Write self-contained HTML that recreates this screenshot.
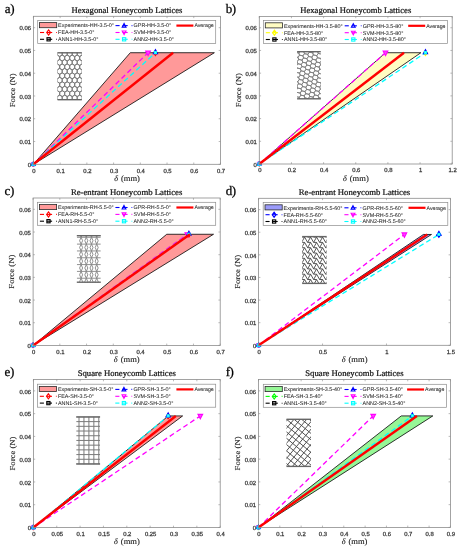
<!DOCTYPE html>
<html><head><meta charset="utf-8"><title>Figure</title>
<style>html,body{margin:0;padding:0;background:#fff;} svg{display:block;} text{text-rendering:geometricPrecision;}</style></head>
<body><svg width="460" height="550" viewBox="0 0 460 550">
<rect width="460" height="550" fill="#fff"/>
<!-- panel a) -->
<text x="4.80" y="13.30" font-family='"Liberation Serif", "Times New Roman", serif' font-size="13" letter-spacing="-0.4" fill="#000" stroke="#000" stroke-width="0.25">a)</text>
<text x="126.95" y="12.80" text-anchor="middle" font-family='"Liberation Serif", "Times New Roman", serif' font-size="8.6" fill="#111" stroke="#111" stroke-width="0.22" textLength="111" lengthAdjust="spacingAndGlyphs">Hexagonal Honeycomb Lattices</text>
<text transform="translate(14.60,90.30) rotate(-90)" text-anchor="middle" font-family='"Liberation Serif", "Times New Roman", serif' font-size="7.6" fill="#1a1a1a" stroke="#1a1a1a" stroke-width="0.12" textLength="34" lengthAdjust="spacingAndGlyphs">Force (N)</text>
<text x="114.15" y="180.90" font-family='"Liberation Serif", "Times New Roman", serif' font-size="8.2" font-style="italic" fill="#1a1a1a" stroke="#1a1a1a" stroke-width="0.12">δ</text>
<text x="120.95" y="180.90" font-family='"Liberation Serif", "Times New Roman", serif' font-size="8.2" fill="#1a1a1a" stroke="#1a1a1a" stroke-width="0.12" textLength="19" lengthAdjust="spacingAndGlyphs">(mm)</text>
<path d="M33.40 164.30L130.29 52.73L214.35 52.73Z" fill="#FF9999" stroke="#111" stroke-width="0.85"/>
<path d="M155.44 50.47L157.34 53.03L155.44 55.60L153.54 53.03Z" fill="none" stroke="#FF0000" stroke-width="1.1"/>
<line x1="33.40" y1="164.30" x2="148.04" y2="52.73" stroke="#FF00FF" stroke-width="1.3" stroke-dasharray="5 3.2"/>
<line x1="33.40" y1="164.30" x2="155.44" y2="52.73" stroke="#00FFFF" stroke-width="1.3" stroke-dasharray="5 3.2"/>
<path d="M148.04 55.62L150.39 51.15L145.69 51.15Z" fill="#FF44FF" stroke="#FF00FF" stroke-width="1.1"/>
<path d="M155.44 49.61L157.64 53.79L153.24 53.79Z" fill="none" stroke="#0000FF" stroke-width="1.05"/>
<rect x="154.34" y="51.53" width="2.21" height="2.21" fill="#66FFFF" stroke="#00FFFF" stroke-width="0.9"/>
<path d="M33.40 161.60L35.40 164.30L33.40 167.00L31.40 164.30Z" fill="none" stroke="#FF0000" stroke-width="1.0"/>
<path d="M33.40 166.72L35.60 162.54L31.20 162.54Z" fill="none" stroke="#FF00FF" stroke-width="1.0"/>
<path d="M33.40 161.38L35.60 165.56L31.20 165.56Z" fill="none" stroke="#0000FF" stroke-width="1.0"/>
<rect x="32.04" y="162.94" width="2.72" height="2.72" fill="none" stroke="#00FFFF" stroke-width="1.0"/>
<line x1="33.40" y1="164.30" x2="173.08" y2="52.73" stroke="#FF0000" stroke-width="2.45"/>
<g>
<clipPath id="c5752"><rect x="57.60" y="52.60" width="24.20" height="47.30"/></clipPath>
<g clip-path="url(#c5752)" fill="none" stroke="#7a7a7a" stroke-width="0.95">
<polygon points="59.70,50.54 57.20,51.99 54.70,50.54 54.70,47.66 57.20,46.21 59.70,47.66"/>
<polygon points="64.70,50.54 62.20,51.99 59.70,50.54 59.70,47.66 62.20,46.21 64.70,47.66"/>
<polygon points="69.70,50.54 67.20,51.99 64.70,50.54 64.70,47.66 67.20,46.21 69.70,47.66"/>
<polygon points="74.70,50.54 72.20,51.99 69.70,50.54 69.70,47.66 72.20,46.21 74.70,47.66"/>
<polygon points="79.70,50.54 77.20,51.99 74.70,50.54 74.70,47.66 77.20,46.21 79.70,47.66"/>
<polygon points="84.70,50.54 82.20,51.99 79.70,50.54 79.70,47.66 82.20,46.21 84.70,47.66"/>
<polygon points="89.70,50.54 87.20,51.99 84.70,50.54 84.70,47.66 87.20,46.21 89.70,47.66"/>
<polygon points="94.70,50.54 92.20,51.99 89.70,50.54 89.70,47.66 92.20,46.21 94.70,47.66"/>
<polygon points="57.20,54.99 54.70,56.44 52.20,54.99 52.20,52.11 54.70,50.66 57.20,52.11"/>
<polygon points="62.20,54.99 59.70,56.44 57.20,54.99 57.20,52.11 59.70,50.66 62.20,52.11"/>
<polygon points="67.20,54.99 64.70,56.44 62.20,54.99 62.20,52.11 64.70,50.66 67.20,52.11"/>
<polygon points="72.20,54.99 69.70,56.44 67.20,54.99 67.20,52.11 69.70,50.66 72.20,52.11"/>
<polygon points="77.20,54.99 74.70,56.44 72.20,54.99 72.20,52.11 74.70,50.66 77.20,52.11"/>
<polygon points="82.20,54.99 79.70,56.44 77.20,54.99 77.20,52.11 79.70,50.66 82.20,52.11"/>
<polygon points="87.20,54.99 84.70,56.44 82.20,54.99 82.20,52.11 84.70,50.66 87.20,52.11"/>
<polygon points="92.20,54.99 89.70,56.44 87.20,54.99 87.20,52.11 89.70,50.66 92.20,52.11"/>
<polygon points="59.70,59.44 57.20,60.89 54.70,59.44 54.70,56.56 57.20,55.11 59.70,56.56"/>
<polygon points="64.70,59.44 62.20,60.89 59.70,59.44 59.70,56.56 62.20,55.11 64.70,56.56"/>
<polygon points="69.70,59.44 67.20,60.89 64.70,59.44 64.70,56.56 67.20,55.11 69.70,56.56"/>
<polygon points="74.70,59.44 72.20,60.89 69.70,59.44 69.70,56.56 72.20,55.11 74.70,56.56"/>
<polygon points="79.70,59.44 77.20,60.89 74.70,59.44 74.70,56.56 77.20,55.11 79.70,56.56"/>
<polygon points="84.70,59.44 82.20,60.89 79.70,59.44 79.70,56.56 82.20,55.11 84.70,56.56"/>
<polygon points="89.70,59.44 87.20,60.89 84.70,59.44 84.70,56.56 87.20,55.11 89.70,56.56"/>
<polygon points="94.70,59.44 92.20,60.89 89.70,59.44 89.70,56.56 92.20,55.11 94.70,56.56"/>
<polygon points="57.20,63.89 54.70,65.34 52.20,63.89 52.20,61.01 54.70,59.56 57.20,61.01"/>
<polygon points="62.20,63.89 59.70,65.34 57.20,63.89 57.20,61.01 59.70,59.56 62.20,61.01"/>
<polygon points="67.20,63.89 64.70,65.34 62.20,63.89 62.20,61.01 64.70,59.56 67.20,61.01"/>
<polygon points="72.20,63.89 69.70,65.34 67.20,63.89 67.20,61.01 69.70,59.56 72.20,61.01"/>
<polygon points="77.20,63.89 74.70,65.34 72.20,63.89 72.20,61.01 74.70,59.56 77.20,61.01"/>
<polygon points="82.20,63.89 79.70,65.34 77.20,63.89 77.20,61.01 79.70,59.56 82.20,61.01"/>
<polygon points="87.20,63.89 84.70,65.34 82.20,63.89 82.20,61.01 84.70,59.56 87.20,61.01"/>
<polygon points="92.20,63.89 89.70,65.34 87.20,63.89 87.20,61.01 89.70,59.56 92.20,61.01"/>
<polygon points="59.70,68.34 57.20,69.79 54.70,68.34 54.70,65.46 57.20,64.01 59.70,65.46"/>
<polygon points="64.70,68.34 62.20,69.79 59.70,68.34 59.70,65.46 62.20,64.01 64.70,65.46"/>
<polygon points="69.70,68.34 67.20,69.79 64.70,68.34 64.70,65.46 67.20,64.01 69.70,65.46"/>
<polygon points="74.70,68.34 72.20,69.79 69.70,68.34 69.70,65.46 72.20,64.01 74.70,65.46"/>
<polygon points="79.70,68.34 77.20,69.79 74.70,68.34 74.70,65.46 77.20,64.01 79.70,65.46"/>
<polygon points="84.70,68.34 82.20,69.79 79.70,68.34 79.70,65.46 82.20,64.01 84.70,65.46"/>
<polygon points="89.70,68.34 87.20,69.79 84.70,68.34 84.70,65.46 87.20,64.01 89.70,65.46"/>
<polygon points="94.70,68.34 92.20,69.79 89.70,68.34 89.70,65.46 92.20,64.01 94.70,65.46"/>
<polygon points="57.20,72.79 54.70,74.24 52.20,72.79 52.20,69.91 54.70,68.46 57.20,69.91"/>
<polygon points="62.20,72.79 59.70,74.24 57.20,72.79 57.20,69.91 59.70,68.46 62.20,69.91"/>
<polygon points="67.20,72.79 64.70,74.24 62.20,72.79 62.20,69.91 64.70,68.46 67.20,69.91"/>
<polygon points="72.20,72.79 69.70,74.24 67.20,72.79 67.20,69.91 69.70,68.46 72.20,69.91"/>
<polygon points="77.20,72.79 74.70,74.24 72.20,72.79 72.20,69.91 74.70,68.46 77.20,69.91"/>
<polygon points="82.20,72.79 79.70,74.24 77.20,72.79 77.20,69.91 79.70,68.46 82.20,69.91"/>
<polygon points="87.20,72.79 84.70,74.24 82.20,72.79 82.20,69.91 84.70,68.46 87.20,69.91"/>
<polygon points="92.20,72.79 89.70,74.24 87.20,72.79 87.20,69.91 89.70,68.46 92.20,69.91"/>
<polygon points="59.70,77.24 57.20,78.69 54.70,77.24 54.70,74.36 57.20,72.91 59.70,74.36"/>
<polygon points="64.70,77.24 62.20,78.69 59.70,77.24 59.70,74.36 62.20,72.91 64.70,74.36"/>
<polygon points="69.70,77.24 67.20,78.69 64.70,77.24 64.70,74.36 67.20,72.91 69.70,74.36"/>
<polygon points="74.70,77.24 72.20,78.69 69.70,77.24 69.70,74.36 72.20,72.91 74.70,74.36"/>
<polygon points="79.70,77.24 77.20,78.69 74.70,77.24 74.70,74.36 77.20,72.91 79.70,74.36"/>
<polygon points="84.70,77.24 82.20,78.69 79.70,77.24 79.70,74.36 82.20,72.91 84.70,74.36"/>
<polygon points="89.70,77.24 87.20,78.69 84.70,77.24 84.70,74.36 87.20,72.91 89.70,74.36"/>
<polygon points="94.70,77.24 92.20,78.69 89.70,77.24 89.70,74.36 92.20,72.91 94.70,74.36"/>
<polygon points="57.20,81.69 54.70,83.14 52.20,81.69 52.20,78.81 54.70,77.36 57.20,78.81"/>
<polygon points="62.20,81.69 59.70,83.14 57.20,81.69 57.20,78.81 59.70,77.36 62.20,78.81"/>
<polygon points="67.20,81.69 64.70,83.14 62.20,81.69 62.20,78.81 64.70,77.36 67.20,78.81"/>
<polygon points="72.20,81.69 69.70,83.14 67.20,81.69 67.20,78.81 69.70,77.36 72.20,78.81"/>
<polygon points="77.20,81.69 74.70,83.14 72.20,81.69 72.20,78.81 74.70,77.36 77.20,78.81"/>
<polygon points="82.20,81.69 79.70,83.14 77.20,81.69 77.20,78.81 79.70,77.36 82.20,78.81"/>
<polygon points="87.20,81.69 84.70,83.14 82.20,81.69 82.20,78.81 84.70,77.36 87.20,78.81"/>
<polygon points="92.20,81.69 89.70,83.14 87.20,81.69 87.20,78.81 89.70,77.36 92.20,78.81"/>
<polygon points="59.70,86.14 57.20,87.59 54.70,86.14 54.70,83.26 57.20,81.81 59.70,83.26"/>
<polygon points="64.70,86.14 62.20,87.59 59.70,86.14 59.70,83.26 62.20,81.81 64.70,83.26"/>
<polygon points="69.70,86.14 67.20,87.59 64.70,86.14 64.70,83.26 67.20,81.81 69.70,83.26"/>
<polygon points="74.70,86.14 72.20,87.59 69.70,86.14 69.70,83.26 72.20,81.81 74.70,83.26"/>
<polygon points="79.70,86.14 77.20,87.59 74.70,86.14 74.70,83.26 77.20,81.81 79.70,83.26"/>
<polygon points="84.70,86.14 82.20,87.59 79.70,86.14 79.70,83.26 82.20,81.81 84.70,83.26"/>
<polygon points="89.70,86.14 87.20,87.59 84.70,86.14 84.70,83.26 87.20,81.81 89.70,83.26"/>
<polygon points="94.70,86.14 92.20,87.59 89.70,86.14 89.70,83.26 92.20,81.81 94.70,83.26"/>
<polygon points="57.20,90.59 54.70,92.04 52.20,90.59 52.20,87.71 54.70,86.26 57.20,87.71"/>
<polygon points="62.20,90.59 59.70,92.04 57.20,90.59 57.20,87.71 59.70,86.26 62.20,87.71"/>
<polygon points="67.20,90.59 64.70,92.04 62.20,90.59 62.20,87.71 64.70,86.26 67.20,87.71"/>
<polygon points="72.20,90.59 69.70,92.04 67.20,90.59 67.20,87.71 69.70,86.26 72.20,87.71"/>
<polygon points="77.20,90.59 74.70,92.04 72.20,90.59 72.20,87.71 74.70,86.26 77.20,87.71"/>
<polygon points="82.20,90.59 79.70,92.04 77.20,90.59 77.20,87.71 79.70,86.26 82.20,87.71"/>
<polygon points="87.20,90.59 84.70,92.04 82.20,90.59 82.20,87.71 84.70,86.26 87.20,87.71"/>
<polygon points="92.20,90.59 89.70,92.04 87.20,90.59 87.20,87.71 89.70,86.26 92.20,87.71"/>
<polygon points="59.70,95.04 57.20,96.49 54.70,95.04 54.70,92.16 57.20,90.71 59.70,92.16"/>
<polygon points="64.70,95.04 62.20,96.49 59.70,95.04 59.70,92.16 62.20,90.71 64.70,92.16"/>
<polygon points="69.70,95.04 67.20,96.49 64.70,95.04 64.70,92.16 67.20,90.71 69.70,92.16"/>
<polygon points="74.70,95.04 72.20,96.49 69.70,95.04 69.70,92.16 72.20,90.71 74.70,92.16"/>
<polygon points="79.70,95.04 77.20,96.49 74.70,95.04 74.70,92.16 77.20,90.71 79.70,92.16"/>
<polygon points="84.70,95.04 82.20,96.49 79.70,95.04 79.70,92.16 82.20,90.71 84.70,92.16"/>
<polygon points="89.70,95.04 87.20,96.49 84.70,95.04 84.70,92.16 87.20,90.71 89.70,92.16"/>
<polygon points="94.70,95.04 92.20,96.49 89.70,95.04 89.70,92.16 92.20,90.71 94.70,92.16"/>
<polygon points="57.20,99.49 54.70,100.94 52.20,99.49 52.20,96.61 54.70,95.16 57.20,96.61"/>
<polygon points="62.20,99.49 59.70,100.94 57.20,99.49 57.20,96.61 59.70,95.16 62.20,96.61"/>
<polygon points="67.20,99.49 64.70,100.94 62.20,99.49 62.20,96.61 64.70,95.16 67.20,96.61"/>
<polygon points="72.20,99.49 69.70,100.94 67.20,99.49 67.20,96.61 69.70,95.16 72.20,96.61"/>
<polygon points="77.20,99.49 74.70,100.94 72.20,99.49 72.20,96.61 74.70,95.16 77.20,96.61"/>
<polygon points="82.20,99.49 79.70,100.94 77.20,99.49 77.20,96.61 79.70,95.16 82.20,96.61"/>
<polygon points="87.20,99.49 84.70,100.94 82.20,99.49 82.20,96.61 84.70,95.16 87.20,96.61"/>
<polygon points="92.20,99.49 89.70,100.94 87.20,99.49 87.20,96.61 89.70,95.16 92.20,96.61"/>
<polygon points="59.70,103.94 57.20,105.39 54.70,103.94 54.70,101.06 57.20,99.61 59.70,101.06"/>
<polygon points="64.70,103.94 62.20,105.39 59.70,103.94 59.70,101.06 62.20,99.61 64.70,101.06"/>
<polygon points="69.70,103.94 67.20,105.39 64.70,103.94 64.70,101.06 67.20,99.61 69.70,101.06"/>
<polygon points="74.70,103.94 72.20,105.39 69.70,103.94 69.70,101.06 72.20,99.61 74.70,101.06"/>
<polygon points="79.70,103.94 77.20,105.39 74.70,103.94 74.70,101.06 77.20,99.61 79.70,101.06"/>
<polygon points="84.70,103.94 82.20,105.39 79.70,103.94 79.70,101.06 82.20,99.61 84.70,101.06"/>
<polygon points="89.70,103.94 87.20,105.39 84.70,103.94 84.70,101.06 87.20,99.61 89.70,101.06"/>
<polygon points="94.70,103.94 92.20,105.39 89.70,103.94 89.70,101.06 92.20,99.61 94.70,101.06"/>
<polygon points="57.20,108.39 54.70,109.84 52.20,108.39 52.20,105.51 54.70,104.06 57.20,105.51"/>
<polygon points="62.20,108.39 59.70,109.84 57.20,108.39 57.20,105.51 59.70,104.06 62.20,105.51"/>
<polygon points="67.20,108.39 64.70,109.84 62.20,108.39 62.20,105.51 64.70,104.06 67.20,105.51"/>
<polygon points="72.20,108.39 69.70,109.84 67.20,108.39 67.20,105.51 69.70,104.06 72.20,105.51"/>
<polygon points="77.20,108.39 74.70,109.84 72.20,108.39 72.20,105.51 74.70,104.06 77.20,105.51"/>
<polygon points="82.20,108.39 79.70,109.84 77.20,108.39 77.20,105.51 79.70,104.06 82.20,105.51"/>
<polygon points="87.20,108.39 84.70,109.84 82.20,108.39 82.20,105.51 84.70,104.06 87.20,105.51"/>
<polygon points="92.20,108.39 89.70,109.84 87.20,108.39 87.20,105.51 89.70,104.06 92.20,105.51"/>
<polygon points="59.70,112.84 57.20,114.29 54.70,112.84 54.70,109.96 57.20,108.51 59.70,109.96"/>
<polygon points="64.70,112.84 62.20,114.29 59.70,112.84 59.70,109.96 62.20,108.51 64.70,109.96"/>
<polygon points="69.70,112.84 67.20,114.29 64.70,112.84 64.70,109.96 67.20,108.51 69.70,109.96"/>
<polygon points="74.70,112.84 72.20,114.29 69.70,112.84 69.70,109.96 72.20,108.51 74.70,109.96"/>
<polygon points="79.70,112.84 77.20,114.29 74.70,112.84 74.70,109.96 77.20,108.51 79.70,109.96"/>
<polygon points="84.70,112.84 82.20,114.29 79.70,112.84 79.70,109.96 82.20,108.51 84.70,109.96"/>
<polygon points="89.70,112.84 87.20,114.29 84.70,112.84 84.70,109.96 87.20,108.51 89.70,109.96"/>
<polygon points="94.70,112.84 92.20,114.29 89.70,112.84 89.70,109.96 92.20,108.51 94.70,109.96"/>
<polygon points="57.20,117.29 54.70,118.74 52.20,117.29 52.20,114.41 54.70,112.96 57.20,114.41"/>
<polygon points="62.20,117.29 59.70,118.74 57.20,117.29 57.20,114.41 59.70,112.96 62.20,114.41"/>
<polygon points="67.20,117.29 64.70,118.74 62.20,117.29 62.20,114.41 64.70,112.96 67.20,114.41"/>
<polygon points="72.20,117.29 69.70,118.74 67.20,117.29 67.20,114.41 69.70,112.96 72.20,114.41"/>
<polygon points="77.20,117.29 74.70,118.74 72.20,117.29 72.20,114.41 74.70,112.96 77.20,114.41"/>
<polygon points="82.20,117.29 79.70,118.74 77.20,117.29 77.20,114.41 79.70,112.96 82.20,114.41"/>
<polygon points="87.20,117.29 84.70,118.74 82.20,117.29 82.20,114.41 84.70,112.96 87.20,114.41"/>
<polygon points="92.20,117.29 89.70,118.74 87.20,117.29 87.20,114.41 89.70,112.96 92.20,114.41"/>
</g>
<line x1="57.60" y1="52.80" x2="81.80" y2="52.80" stroke="#666" stroke-width="1.4"/>
<line x1="57.60" y1="99.70" x2="81.80" y2="99.70" stroke="#666" stroke-width="1.4"/>
</g>
<rect x="33.40" y="16.30" width="187.10" height="148.00" fill="none" stroke="#8c8c8c" stroke-width="0.8"/>
<line x1="33.40" y1="164.30" x2="33.40" y2="162.50" stroke="#8c8c8c" stroke-width="0.6"/>
<line x1="33.40" y1="16.30" x2="33.40" y2="18.10" stroke="#8c8c8c" stroke-width="0.6"/>
<text x="33.90" y="172.60" text-anchor="middle" font-family='"Liberation Sans", Arial, sans-serif' font-size="5.9" fill="#3c3c3c" stroke="#3c3c3c" stroke-width="0.28">0</text>
<line x1="60.13" y1="164.30" x2="60.13" y2="162.50" stroke="#8c8c8c" stroke-width="0.6"/>
<line x1="60.13" y1="16.30" x2="60.13" y2="18.10" stroke="#8c8c8c" stroke-width="0.6"/>
<text x="60.63" y="172.60" text-anchor="middle" font-family='"Liberation Sans", Arial, sans-serif' font-size="5.9" fill="#3c3c3c" stroke="#3c3c3c" stroke-width="0.28">0.1</text>
<line x1="86.86" y1="164.30" x2="86.86" y2="162.50" stroke="#8c8c8c" stroke-width="0.6"/>
<line x1="86.86" y1="16.30" x2="86.86" y2="18.10" stroke="#8c8c8c" stroke-width="0.6"/>
<text x="87.36" y="172.60" text-anchor="middle" font-family='"Liberation Sans", Arial, sans-serif' font-size="5.9" fill="#3c3c3c" stroke="#3c3c3c" stroke-width="0.28">0.2</text>
<line x1="113.59" y1="164.30" x2="113.59" y2="162.50" stroke="#8c8c8c" stroke-width="0.6"/>
<line x1="113.59" y1="16.30" x2="113.59" y2="18.10" stroke="#8c8c8c" stroke-width="0.6"/>
<text x="114.09" y="172.60" text-anchor="middle" font-family='"Liberation Sans", Arial, sans-serif' font-size="5.9" fill="#3c3c3c" stroke="#3c3c3c" stroke-width="0.28">0.3</text>
<line x1="140.31" y1="164.30" x2="140.31" y2="162.50" stroke="#8c8c8c" stroke-width="0.6"/>
<line x1="140.31" y1="16.30" x2="140.31" y2="18.10" stroke="#8c8c8c" stroke-width="0.6"/>
<text x="140.81" y="172.60" text-anchor="middle" font-family='"Liberation Sans", Arial, sans-serif' font-size="5.9" fill="#3c3c3c" stroke="#3c3c3c" stroke-width="0.28">0.4</text>
<line x1="167.04" y1="164.30" x2="167.04" y2="162.50" stroke="#8c8c8c" stroke-width="0.6"/>
<line x1="167.04" y1="16.30" x2="167.04" y2="18.10" stroke="#8c8c8c" stroke-width="0.6"/>
<text x="167.54" y="172.60" text-anchor="middle" font-family='"Liberation Sans", Arial, sans-serif' font-size="5.9" fill="#3c3c3c" stroke="#3c3c3c" stroke-width="0.28">0.5</text>
<line x1="193.77" y1="164.30" x2="193.77" y2="162.50" stroke="#8c8c8c" stroke-width="0.6"/>
<line x1="193.77" y1="16.30" x2="193.77" y2="18.10" stroke="#8c8c8c" stroke-width="0.6"/>
<text x="194.27" y="172.60" text-anchor="middle" font-family='"Liberation Sans", Arial, sans-serif' font-size="5.9" fill="#3c3c3c" stroke="#3c3c3c" stroke-width="0.28">0.6</text>
<line x1="220.50" y1="164.30" x2="220.50" y2="162.50" stroke="#8c8c8c" stroke-width="0.6"/>
<line x1="220.50" y1="16.30" x2="220.50" y2="18.10" stroke="#8c8c8c" stroke-width="0.6"/>
<text x="221.00" y="172.60" text-anchor="middle" font-family='"Liberation Sans", Arial, sans-serif' font-size="5.9" fill="#3c3c3c" stroke="#3c3c3c" stroke-width="0.28">0.7</text>
<line x1="33.40" y1="164.30" x2="35.20" y2="164.30" stroke="#8c8c8c" stroke-width="0.6"/>
<line x1="220.50" y1="164.30" x2="218.70" y2="164.30" stroke="#8c8c8c" stroke-width="0.6"/>
<text x="31.00" y="167.00" text-anchor="end" font-family='"Liberation Sans", Arial, sans-serif' font-size="5.9" fill="#3c3c3c" stroke="#3c3c3c" stroke-width="0.28">0</text>
<line x1="33.40" y1="141.53" x2="35.20" y2="141.53" stroke="#8c8c8c" stroke-width="0.6"/>
<line x1="220.50" y1="141.53" x2="218.70" y2="141.53" stroke="#8c8c8c" stroke-width="0.6"/>
<text x="31.00" y="144.23" text-anchor="end" font-family='"Liberation Sans", Arial, sans-serif' font-size="5.9" fill="#3c3c3c" stroke="#3c3c3c" stroke-width="0.28">0.01</text>
<line x1="33.40" y1="118.76" x2="35.20" y2="118.76" stroke="#8c8c8c" stroke-width="0.6"/>
<line x1="220.50" y1="118.76" x2="218.70" y2="118.76" stroke="#8c8c8c" stroke-width="0.6"/>
<text x="31.00" y="121.46" text-anchor="end" font-family='"Liberation Sans", Arial, sans-serif' font-size="5.9" fill="#3c3c3c" stroke="#3c3c3c" stroke-width="0.28">0.02</text>
<line x1="33.40" y1="95.99" x2="35.20" y2="95.99" stroke="#8c8c8c" stroke-width="0.6"/>
<line x1="220.50" y1="95.99" x2="218.70" y2="95.99" stroke="#8c8c8c" stroke-width="0.6"/>
<text x="31.00" y="98.69" text-anchor="end" font-family='"Liberation Sans", Arial, sans-serif' font-size="5.9" fill="#3c3c3c" stroke="#3c3c3c" stroke-width="0.28">0.03</text>
<line x1="33.40" y1="73.22" x2="35.20" y2="73.22" stroke="#8c8c8c" stroke-width="0.6"/>
<line x1="220.50" y1="73.22" x2="218.70" y2="73.22" stroke="#8c8c8c" stroke-width="0.6"/>
<text x="31.00" y="75.92" text-anchor="end" font-family='"Liberation Sans", Arial, sans-serif' font-size="5.9" fill="#3c3c3c" stroke="#3c3c3c" stroke-width="0.28">0.04</text>
<line x1="33.40" y1="50.45" x2="35.20" y2="50.45" stroke="#8c8c8c" stroke-width="0.6"/>
<line x1="220.50" y1="50.45" x2="218.70" y2="50.45" stroke="#8c8c8c" stroke-width="0.6"/>
<text x="31.00" y="53.15" text-anchor="end" font-family='"Liberation Sans", Arial, sans-serif' font-size="5.9" fill="#3c3c3c" stroke="#3c3c3c" stroke-width="0.28">0.05</text>
<line x1="33.40" y1="27.68" x2="35.20" y2="27.68" stroke="#8c8c8c" stroke-width="0.6"/>
<line x1="220.50" y1="27.68" x2="218.70" y2="27.68" stroke="#8c8c8c" stroke-width="0.6"/>
<text x="31.00" y="30.38" text-anchor="end" font-family='"Liberation Sans", Arial, sans-serif' font-size="5.9" fill="#3c3c3c" stroke="#3c3c3c" stroke-width="0.28">0.06</text>
<rect x="37.70" y="20.40" width="178.00" height="23.00" fill="#fff" stroke="#8c8c8c" stroke-width="0.7"/>
<rect x="39.50" y="22.60" width="17.2" height="5.1" fill="#FF9999" stroke="#2a2a2a" stroke-width="0.8"/>
<text x="58.10" y="27.40" font-family='"Liberation Sans", Arial, sans-serif' font-size="5.4" fill="#262626" stroke="#262626" stroke-width="0.05">Experiments-HH-3.5-0°</text>
<line x1="40.00" y1="32.50" x2="44.10" y2="32.50" stroke="#FF0000" stroke-width="1.1"/><line x1="47.00" y1="32.50" x2="52.20" y2="32.50" stroke="#FF0000" stroke-width="1.1"/><line x1="56.10" y1="32.50" x2="56.90" y2="32.50" stroke="#FF0000" stroke-width="1.1"/><path d="M48.60 29.93L50.50 32.50L48.60 35.06L46.70 32.50Z" fill="none" stroke="#FF0000" stroke-width="1.1"/>
<text x="58.10" y="34.30" font-family='"Liberation Sans", Arial, sans-serif' font-size="5.4" fill="#262626" stroke="#262626" stroke-width="0.05">FEA-HH-3.5-0°</text>
<line x1="40.00" y1="39.30" x2="44.10" y2="39.30" stroke="#000000" stroke-width="1.1"/><line x1="47.00" y1="39.30" x2="52.20" y2="39.30" stroke="#000000" stroke-width="1.1"/><line x1="56.10" y1="39.30" x2="56.90" y2="39.30" stroke="#000000" stroke-width="1.1"/><rect x="46.98" y="37.68" width="3.23" height="3.23" fill="none" stroke="#000000" stroke-width="1.1"/>
<text x="58.10" y="41.10" font-family='"Liberation Sans", Arial, sans-serif' font-size="5.4" fill="#262626" stroke="#262626" stroke-width="0.05">ANN1-HH-3.5-0°</text>
<line x1="115.50" y1="25.60" x2="119.60" y2="25.60" stroke="#0000FF" stroke-width="1.1"/><line x1="122.50" y1="25.60" x2="127.70" y2="25.60" stroke="#0000FF" stroke-width="1.1"/><line x1="131.60" y1="25.60" x2="132.40" y2="25.60" stroke="#0000FF" stroke-width="1.1"/><path d="M124.10 23.51L126.00 27.12L122.20 27.12Z" fill="none" stroke="#0000FF" stroke-width="1.1"/>
<text x="133.60" y="27.40" font-family='"Liberation Sans", Arial, sans-serif' font-size="5.4" fill="#262626" stroke="#262626" stroke-width="0.05">GPR-HH-3.5-0°</text>
<line x1="115.50" y1="32.50" x2="119.60" y2="32.50" stroke="#FF00FF" stroke-width="1.1"/><line x1="122.50" y1="32.50" x2="127.70" y2="32.50" stroke="#FF00FF" stroke-width="1.1"/><line x1="131.60" y1="32.50" x2="132.40" y2="32.50" stroke="#FF00FF" stroke-width="1.1"/><path d="M124.10 34.59L126.00 30.98L122.20 30.98Z" fill="none" stroke="#FF00FF" stroke-width="1.1"/>
<text x="133.60" y="34.30" font-family='"Liberation Sans", Arial, sans-serif' font-size="5.4" fill="#262626" stroke="#262626" stroke-width="0.05">SVM-HH-3.5-0°</text>
<line x1="115.50" y1="39.30" x2="119.60" y2="39.30" stroke="#00FFFF" stroke-width="1.1"/><line x1="122.50" y1="39.30" x2="127.70" y2="39.30" stroke="#00FFFF" stroke-width="1.1"/><line x1="131.60" y1="39.30" x2="132.40" y2="39.30" stroke="#00FFFF" stroke-width="1.1"/><rect x="122.48" y="37.68" width="3.23" height="3.23" fill="none" stroke="#00FFFF" stroke-width="1.1"/>
<text x="133.60" y="41.10" font-family='"Liberation Sans", Arial, sans-serif' font-size="5.4" fill="#262626" stroke="#262626" stroke-width="0.05">ANN2-HH-3.5-0°</text>
<line x1="176.40" y1="25.60" x2="193.40" y2="25.60" stroke="#FF0000" stroke-width="2.2"/>
<text textLength="19.3" lengthAdjust="spacingAndGlyphs" x="194.40" y="27.40" font-family='"Liberation Sans", Arial, sans-serif' font-size="5.4" fill="#262626" stroke="#262626" stroke-width="0.05">Average</text>
<!-- panel b) -->
<text x="225.70" y="13.30" font-family='"Liberation Serif", "Times New Roman", serif' font-size="13" letter-spacing="-0.4" fill="#000" stroke="#000" stroke-width="0.25">b)</text>
<text x="355.75" y="12.90" text-anchor="middle" font-family='"Liberation Serif", "Times New Roman", serif' font-size="8.6" fill="#111" stroke="#111" stroke-width="0.22" textLength="111" lengthAdjust="spacingAndGlyphs">Hexagonal Honeycomb Lattices</text>
<text transform="translate(240.50,90.20) rotate(-90)" text-anchor="middle" font-family='"Liberation Serif", "Times New Roman", serif' font-size="7.6" fill="#1a1a1a" stroke="#1a1a1a" stroke-width="0.12" textLength="34" lengthAdjust="spacingAndGlyphs">Force (N)</text>
<text x="342.95" y="180.60" font-family='"Liberation Serif", "Times New Roman", serif' font-size="8.2" font-style="italic" fill="#1a1a1a" stroke="#1a1a1a" stroke-width="0.12">δ</text>
<text x="349.75" y="180.60" font-family='"Liberation Serif", "Times New Roman", serif' font-size="8.2" fill="#1a1a1a" stroke="#1a1a1a" stroke-width="0.12" textLength="19" lengthAdjust="spacingAndGlyphs">(mm)</text>
<path d="M259.30 164.00L385.49 52.73L420.85 52.73Z" fill="#FFFCC2" stroke="#111" stroke-width="0.85"/>
<path d="M425.45 50.47L427.35 53.03L425.45 55.60L423.55 53.03Z" fill="none" stroke="#FFFF00" stroke-width="1.1"/>
<line x1="259.30" y1="164.00" x2="385.49" y2="52.73" stroke="#FF00FF" stroke-width="1.3" stroke-dasharray="5 3.2"/>
<line x1="259.30" y1="164.00" x2="425.45" y2="52.73" stroke="#00FFFF" stroke-width="1.3" stroke-dasharray="5 3.2"/>
<path d="M385.49 55.62L387.84 51.15L383.14 51.15Z" fill="#FF44FF" stroke="#FF00FF" stroke-width="1.1"/>
<path d="M425.45 49.61L427.65 53.79L423.25 53.79Z" fill="none" stroke="#0000FF" stroke-width="1.05"/>
<rect x="424.35" y="51.53" width="2.21" height="2.21" fill="#66FFFF" stroke="#00FFFF" stroke-width="0.9"/>
<path d="M259.30 161.30L261.30 164.00L259.30 166.70L257.30 164.00Z" fill="none" stroke="#FFFF00" stroke-width="1.0"/>
<path d="M259.30 166.42L261.50 162.24L257.10 162.24Z" fill="none" stroke="#FF00FF" stroke-width="1.0"/>
<path d="M259.30 161.08L261.50 165.26L257.10 165.26Z" fill="none" stroke="#0000FF" stroke-width="1.0"/>
<rect x="257.94" y="162.64" width="2.72" height="2.72" fill="none" stroke="#00FFFF" stroke-width="1.0"/>
<line x1="259.30" y1="164.00" x2="403.98" y2="52.73" stroke="#FF0000" stroke-width="2.45"/>
<g>
<clipPath id="c29751"><rect x="297.10" y="51.50" width="23.70" height="47.50"/></clipPath>
<g clip-path="url(#c29751)" fill="none" stroke="#7a7a7a" stroke-width="0.78">
<polygon points="292.28,45.26 295.67,45.94 296.33,48.06 294.82,50.24 291.43,49.56 290.77,47.44"/>
<polygon points="291.43,49.56 294.82,50.24 295.48,52.36 293.97,54.54 290.58,53.86 289.92,51.74"/>
<polygon points="290.58,53.86 293.97,54.54 294.63,56.66 293.12,58.84 289.73,58.16 289.07,56.04"/>
<polygon points="297.18,43.76 300.57,44.44 301.23,46.56 299.72,48.74 296.33,48.06 295.67,45.94"/>
<polygon points="296.33,48.06 299.72,48.74 300.38,50.86 298.87,53.04 295.48,52.36 294.82,50.24"/>
<polygon points="295.48,52.36 298.87,53.04 299.53,55.16 298.02,57.34 294.63,56.66 293.97,54.54"/>
<polygon points="294.63,56.66 298.02,57.34 298.68,59.46 297.17,61.64 293.78,60.96 293.12,58.84"/>
<polygon points="293.78,60.96 297.17,61.64 297.83,63.76 296.32,65.94 292.93,65.26 292.27,63.14"/>
<polygon points="292.93,65.26 296.32,65.94 296.98,68.06 295.47,70.24 292.08,69.56 291.42,67.44"/>
<polygon points="292.08,69.56 295.47,70.24 296.13,72.36 294.62,74.54 291.23,73.86 290.57,71.74"/>
<polygon points="291.23,73.86 294.62,74.54 295.28,76.66 293.77,78.84 290.38,78.16 289.72,76.04"/>
<polygon points="290.38,78.16 293.77,78.84 294.43,80.96 292.92,83.14 289.53,82.46 288.87,80.34"/>
<polygon points="301.23,46.56 304.62,47.24 305.28,49.36 303.77,51.54 300.38,50.86 299.72,48.74"/>
<polygon points="300.38,50.86 303.77,51.54 304.43,53.66 302.92,55.84 299.53,55.16 298.87,53.04"/>
<polygon points="299.53,55.16 302.92,55.84 303.58,57.96 302.07,60.14 298.68,59.46 298.02,57.34"/>
<polygon points="298.68,59.46 302.07,60.14 302.73,62.26 301.22,64.44 297.83,63.76 297.17,61.64"/>
<polygon points="297.83,63.76 301.22,64.44 301.88,66.56 300.37,68.74 296.98,68.06 296.32,65.94"/>
<polygon points="296.98,68.06 300.37,68.74 301.03,70.86 299.52,73.04 296.13,72.36 295.47,70.24"/>
<polygon points="296.13,72.36 299.52,73.04 300.18,75.16 298.67,77.34 295.28,76.66 294.62,74.54"/>
<polygon points="295.28,76.66 298.67,77.34 299.33,79.46 297.82,81.64 294.43,80.96 293.77,78.84"/>
<polygon points="294.43,80.96 297.82,81.64 298.48,83.76 296.97,85.94 293.58,85.26 292.92,83.14"/>
<polygon points="293.58,85.26 296.97,85.94 297.63,88.06 296.12,90.24 292.73,89.56 292.07,87.44"/>
<polygon points="292.73,89.56 296.12,90.24 296.78,92.36 295.27,94.54 291.88,93.86 291.22,91.74"/>
<polygon points="291.88,93.86 295.27,94.54 295.93,96.66 294.42,98.84 291.03,98.16 290.37,96.04"/>
<polygon points="291.03,98.16 294.42,98.84 295.08,100.96 293.57,103.14 290.18,102.46 289.52,100.34"/>
<polygon points="290.18,102.46 293.57,103.14 294.23,105.26 292.72,107.44 289.33,106.76 288.67,104.64"/>
<polygon points="306.13,45.06 309.52,45.74 310.18,47.86 308.67,50.04 305.28,49.36 304.62,47.24"/>
<polygon points="305.28,49.36 308.67,50.04 309.33,52.16 307.82,54.34 304.43,53.66 303.77,51.54"/>
<polygon points="304.43,53.66 307.82,54.34 308.48,56.46 306.97,58.64 303.58,57.96 302.92,55.84"/>
<polygon points="303.58,57.96 306.97,58.64 307.63,60.76 306.12,62.94 302.73,62.26 302.07,60.14"/>
<polygon points="302.73,62.26 306.12,62.94 306.78,65.06 305.27,67.24 301.88,66.56 301.22,64.44"/>
<polygon points="301.88,66.56 305.27,67.24 305.93,69.36 304.42,71.54 301.03,70.86 300.37,68.74"/>
<polygon points="301.03,70.86 304.42,71.54 305.08,73.66 303.57,75.84 300.18,75.16 299.52,73.04"/>
<polygon points="300.18,75.16 303.57,75.84 304.23,77.96 302.72,80.14 299.33,79.46 298.67,77.34"/>
<polygon points="299.33,79.46 302.72,80.14 303.38,82.26 301.87,84.44 298.48,83.76 297.82,81.64"/>
<polygon points="298.48,83.76 301.87,84.44 302.53,86.56 301.02,88.74 297.63,88.06 296.97,85.94"/>
<polygon points="297.63,88.06 301.02,88.74 301.68,90.86 300.17,93.04 296.78,92.36 296.12,90.24"/>
<polygon points="296.78,92.36 300.17,93.04 300.83,95.16 299.32,97.34 295.93,96.66 295.27,94.54"/>
<polygon points="295.93,96.66 299.32,97.34 299.98,99.46 298.47,101.64 295.08,100.96 294.42,98.84"/>
<polygon points="295.08,100.96 298.47,101.64 299.13,103.76 297.62,105.94 294.23,105.26 293.57,103.14"/>
<polygon points="311.03,43.56 314.42,44.24 315.08,46.36 313.57,48.54 310.18,47.86 309.52,45.74"/>
<polygon points="310.18,47.86 313.57,48.54 314.23,50.66 312.72,52.84 309.33,52.16 308.67,50.04"/>
<polygon points="309.33,52.16 312.72,52.84 313.38,54.96 311.87,57.14 308.48,56.46 307.82,54.34"/>
<polygon points="308.48,56.46 311.87,57.14 312.53,59.26 311.02,61.44 307.63,60.76 306.97,58.64"/>
<polygon points="307.63,60.76 311.02,61.44 311.68,63.56 310.17,65.74 306.78,65.06 306.12,62.94"/>
<polygon points="306.78,65.06 310.17,65.74 310.83,67.86 309.32,70.04 305.93,69.36 305.27,67.24"/>
<polygon points="305.93,69.36 309.32,70.04 309.98,72.16 308.47,74.34 305.08,73.66 304.42,71.54"/>
<polygon points="305.08,73.66 308.47,74.34 309.13,76.46 307.62,78.64 304.23,77.96 303.57,75.84"/>
<polygon points="304.23,77.96 307.62,78.64 308.28,80.76 306.77,82.94 303.38,82.26 302.72,80.14"/>
<polygon points="303.38,82.26 306.77,82.94 307.43,85.06 305.92,87.24 302.53,86.56 301.87,84.44"/>
<polygon points="302.53,86.56 305.92,87.24 306.58,89.36 305.07,91.54 301.68,90.86 301.02,88.74"/>
<polygon points="301.68,90.86 305.07,91.54 305.73,93.66 304.22,95.84 300.83,95.16 300.17,93.04"/>
<polygon points="300.83,95.16 304.22,95.84 304.88,97.96 303.37,100.14 299.98,99.46 299.32,97.34"/>
<polygon points="299.98,99.46 303.37,100.14 304.03,102.26 302.52,104.44 299.13,103.76 298.47,101.64"/>
<polygon points="315.08,46.36 318.47,47.04 319.13,49.16 317.62,51.34 314.23,50.66 313.57,48.54"/>
<polygon points="314.23,50.66 317.62,51.34 318.28,53.46 316.77,55.64 313.38,54.96 312.72,52.84"/>
<polygon points="313.38,54.96 316.77,55.64 317.43,57.76 315.92,59.94 312.53,59.26 311.87,57.14"/>
<polygon points="312.53,59.26 315.92,59.94 316.58,62.06 315.07,64.24 311.68,63.56 311.02,61.44"/>
<polygon points="311.68,63.56 315.07,64.24 315.73,66.36 314.22,68.54 310.83,67.86 310.17,65.74"/>
<polygon points="310.83,67.86 314.22,68.54 314.88,70.66 313.37,72.84 309.98,72.16 309.32,70.04"/>
<polygon points="309.98,72.16 313.37,72.84 314.03,74.96 312.52,77.14 309.13,76.46 308.47,74.34"/>
<polygon points="309.13,76.46 312.52,77.14 313.18,79.26 311.67,81.44 308.28,80.76 307.62,78.64"/>
<polygon points="308.28,80.76 311.67,81.44 312.33,83.56 310.82,85.74 307.43,85.06 306.77,82.94"/>
<polygon points="307.43,85.06 310.82,85.74 311.48,87.86 309.97,90.04 306.58,89.36 305.92,87.24"/>
<polygon points="306.58,89.36 309.97,90.04 310.63,92.16 309.12,94.34 305.73,93.66 305.07,91.54"/>
<polygon points="305.73,93.66 309.12,94.34 309.78,96.46 308.27,98.64 304.88,97.96 304.22,95.84"/>
<polygon points="304.88,97.96 308.27,98.64 308.93,100.76 307.42,102.94 304.03,102.26 303.37,100.14"/>
<polygon points="304.03,102.26 307.42,102.94 308.08,105.06 306.57,107.24 303.18,106.56 302.52,104.44"/>
<polygon points="319.98,44.86 323.37,45.54 324.03,47.66 322.52,49.84 319.13,49.16 318.47,47.04"/>
<polygon points="319.13,49.16 322.52,49.84 323.18,51.96 321.67,54.14 318.28,53.46 317.62,51.34"/>
<polygon points="318.28,53.46 321.67,54.14 322.33,56.26 320.82,58.44 317.43,57.76 316.77,55.64"/>
<polygon points="317.43,57.76 320.82,58.44 321.48,60.56 319.97,62.74 316.58,62.06 315.92,59.94"/>
<polygon points="316.58,62.06 319.97,62.74 320.63,64.86 319.12,67.04 315.73,66.36 315.07,64.24"/>
<polygon points="315.73,66.36 319.12,67.04 319.78,69.16 318.27,71.34 314.88,70.66 314.22,68.54"/>
<polygon points="314.88,70.66 318.27,71.34 318.93,73.46 317.42,75.64 314.03,74.96 313.37,72.84"/>
<polygon points="314.03,74.96 317.42,75.64 318.08,77.76 316.57,79.94 313.18,79.26 312.52,77.14"/>
<polygon points="313.18,79.26 316.57,79.94 317.23,82.06 315.72,84.24 312.33,83.56 311.67,81.44"/>
<polygon points="312.33,83.56 315.72,84.24 316.38,86.36 314.87,88.54 311.48,87.86 310.82,85.74"/>
<polygon points="311.48,87.86 314.87,88.54 315.53,90.66 314.02,92.84 310.63,92.16 309.97,90.04"/>
<polygon points="310.63,92.16 314.02,92.84 314.68,94.96 313.17,97.14 309.78,96.46 309.12,94.34"/>
<polygon points="309.78,96.46 313.17,97.14 313.83,99.26 312.32,101.44 308.93,100.76 308.27,98.64"/>
<polygon points="308.93,100.76 312.32,101.44 312.98,103.56 311.47,105.74 308.08,105.06 307.42,102.94"/>
<polygon points="324.88,43.36 328.27,44.04 328.93,46.16 327.42,48.34 324.03,47.66 323.37,45.54"/>
<polygon points="324.03,47.66 327.42,48.34 328.08,50.46 326.57,52.64 323.18,51.96 322.52,49.84"/>
<polygon points="323.18,51.96 326.57,52.64 327.23,54.76 325.72,56.94 322.33,56.26 321.67,54.14"/>
<polygon points="322.33,56.26 325.72,56.94 326.38,59.06 324.87,61.24 321.48,60.56 320.82,58.44"/>
<polygon points="321.48,60.56 324.87,61.24 325.53,63.36 324.02,65.54 320.63,64.86 319.97,62.74"/>
<polygon points="320.63,64.86 324.02,65.54 324.68,67.66 323.17,69.84 319.78,69.16 319.12,67.04"/>
<polygon points="319.78,69.16 323.17,69.84 323.83,71.96 322.32,74.14 318.93,73.46 318.27,71.34"/>
<polygon points="318.93,73.46 322.32,74.14 322.98,76.26 321.47,78.44 318.08,77.76 317.42,75.64"/>
<polygon points="318.08,77.76 321.47,78.44 322.13,80.56 320.62,82.74 317.23,82.06 316.57,79.94"/>
<polygon points="317.23,82.06 320.62,82.74 321.28,84.86 319.77,87.04 316.38,86.36 315.72,84.24"/>
<polygon points="316.38,86.36 319.77,87.04 320.43,89.16 318.92,91.34 315.53,90.66 314.87,88.54"/>
<polygon points="315.53,90.66 318.92,91.34 319.58,93.46 318.07,95.64 314.68,94.96 314.02,92.84"/>
<polygon points="314.68,94.96 318.07,95.64 318.73,97.76 317.22,99.94 313.83,99.26 313.17,97.14"/>
<polygon points="313.83,99.26 317.22,99.94 317.88,102.06 316.37,104.24 312.98,103.56 312.32,101.44"/>
<polygon points="324.68,67.66 328.07,68.34 328.73,70.46 327.22,72.64 323.83,71.96 323.17,69.84"/>
<polygon points="323.83,71.96 327.22,72.64 327.88,74.76 326.37,76.94 322.98,76.26 322.32,74.14"/>
<polygon points="322.98,76.26 326.37,76.94 327.03,79.06 325.52,81.24 322.13,80.56 321.47,78.44"/>
<polygon points="322.13,80.56 325.52,81.24 326.18,83.36 324.67,85.54 321.28,84.86 320.62,82.74"/>
<polygon points="321.28,84.86 324.67,85.54 325.33,87.66 323.82,89.84 320.43,89.16 319.77,87.04"/>
<polygon points="320.43,89.16 323.82,89.84 324.48,91.96 322.97,94.14 319.58,93.46 318.92,91.34"/>
<polygon points="319.58,93.46 322.97,94.14 323.63,96.26 322.12,98.44 318.73,97.76 318.07,95.64"/>
<polygon points="318.73,97.76 322.12,98.44 322.78,100.56 321.27,102.74 317.88,102.06 317.22,99.94"/>
<polygon points="317.88,102.06 321.27,102.74 321.93,104.86 320.42,107.04 317.03,106.36 316.37,104.24"/>
<polygon points="325.33,87.66 328.72,88.34 329.38,90.46 327.87,92.64 324.48,91.96 323.82,89.84"/>
<polygon points="324.48,91.96 327.87,92.64 328.53,94.76 327.02,96.94 323.63,96.26 322.97,94.14"/>
<polygon points="323.63,96.26 327.02,96.94 327.68,99.06 326.17,101.24 322.78,100.56 322.12,98.44"/>
<polygon points="322.78,100.56 326.17,101.24 326.83,103.36 325.32,105.54 321.93,104.86 321.27,102.74"/>
</g>
<line x1="297.10" y1="51.70" x2="320.80" y2="51.70" stroke="#666" stroke-width="1.4"/>
<line x1="297.10" y1="98.80" x2="320.80" y2="98.80" stroke="#666" stroke-width="1.4"/>
</g>
<rect x="259.30" y="16.40" width="192.90" height="147.60" fill="none" stroke="#8c8c8c" stroke-width="0.8"/>
<line x1="259.30" y1="164.00" x2="259.30" y2="162.20" stroke="#8c8c8c" stroke-width="0.6"/>
<line x1="259.30" y1="16.40" x2="259.30" y2="18.20" stroke="#8c8c8c" stroke-width="0.6"/>
<text x="259.80" y="172.30" text-anchor="middle" font-family='"Liberation Sans", Arial, sans-serif' font-size="5.9" fill="#3c3c3c" stroke="#3c3c3c" stroke-width="0.28">0</text>
<line x1="291.45" y1="164.00" x2="291.45" y2="162.20" stroke="#8c8c8c" stroke-width="0.6"/>
<line x1="291.45" y1="16.40" x2="291.45" y2="18.20" stroke="#8c8c8c" stroke-width="0.6"/>
<text x="291.95" y="172.30" text-anchor="middle" font-family='"Liberation Sans", Arial, sans-serif' font-size="5.9" fill="#3c3c3c" stroke="#3c3c3c" stroke-width="0.28">0.2</text>
<line x1="323.60" y1="164.00" x2="323.60" y2="162.20" stroke="#8c8c8c" stroke-width="0.6"/>
<line x1="323.60" y1="16.40" x2="323.60" y2="18.20" stroke="#8c8c8c" stroke-width="0.6"/>
<text x="324.10" y="172.30" text-anchor="middle" font-family='"Liberation Sans", Arial, sans-serif' font-size="5.9" fill="#3c3c3c" stroke="#3c3c3c" stroke-width="0.28">0.4</text>
<line x1="355.75" y1="164.00" x2="355.75" y2="162.20" stroke="#8c8c8c" stroke-width="0.6"/>
<line x1="355.75" y1="16.40" x2="355.75" y2="18.20" stroke="#8c8c8c" stroke-width="0.6"/>
<text x="356.25" y="172.30" text-anchor="middle" font-family='"Liberation Sans", Arial, sans-serif' font-size="5.9" fill="#3c3c3c" stroke="#3c3c3c" stroke-width="0.28">0.6</text>
<line x1="387.90" y1="164.00" x2="387.90" y2="162.20" stroke="#8c8c8c" stroke-width="0.6"/>
<line x1="387.90" y1="16.40" x2="387.90" y2="18.20" stroke="#8c8c8c" stroke-width="0.6"/>
<text x="388.40" y="172.30" text-anchor="middle" font-family='"Liberation Sans", Arial, sans-serif' font-size="5.9" fill="#3c3c3c" stroke="#3c3c3c" stroke-width="0.28">0.8</text>
<line x1="420.05" y1="164.00" x2="420.05" y2="162.20" stroke="#8c8c8c" stroke-width="0.6"/>
<line x1="420.05" y1="16.40" x2="420.05" y2="18.20" stroke="#8c8c8c" stroke-width="0.6"/>
<text x="420.55" y="172.30" text-anchor="middle" font-family='"Liberation Sans", Arial, sans-serif' font-size="5.9" fill="#3c3c3c" stroke="#3c3c3c" stroke-width="0.28">1</text>
<line x1="452.20" y1="164.00" x2="452.20" y2="162.20" stroke="#8c8c8c" stroke-width="0.6"/>
<line x1="452.20" y1="16.40" x2="452.20" y2="18.20" stroke="#8c8c8c" stroke-width="0.6"/>
<text x="452.70" y="172.30" text-anchor="middle" font-family='"Liberation Sans", Arial, sans-serif' font-size="5.9" fill="#3c3c3c" stroke="#3c3c3c" stroke-width="0.28">1.2</text>
<line x1="259.30" y1="164.00" x2="261.10" y2="164.00" stroke="#8c8c8c" stroke-width="0.6"/>
<line x1="452.20" y1="164.00" x2="450.40" y2="164.00" stroke="#8c8c8c" stroke-width="0.6"/>
<text x="256.90" y="166.70" text-anchor="end" font-family='"Liberation Sans", Arial, sans-serif' font-size="5.9" fill="#3c3c3c" stroke="#3c3c3c" stroke-width="0.28">0</text>
<line x1="259.30" y1="141.29" x2="261.10" y2="141.29" stroke="#8c8c8c" stroke-width="0.6"/>
<line x1="452.20" y1="141.29" x2="450.40" y2="141.29" stroke="#8c8c8c" stroke-width="0.6"/>
<text x="256.90" y="143.99" text-anchor="end" font-family='"Liberation Sans", Arial, sans-serif' font-size="5.9" fill="#3c3c3c" stroke="#3c3c3c" stroke-width="0.28">0.01</text>
<line x1="259.30" y1="118.58" x2="261.10" y2="118.58" stroke="#8c8c8c" stroke-width="0.6"/>
<line x1="452.20" y1="118.58" x2="450.40" y2="118.58" stroke="#8c8c8c" stroke-width="0.6"/>
<text x="256.90" y="121.28" text-anchor="end" font-family='"Liberation Sans", Arial, sans-serif' font-size="5.9" fill="#3c3c3c" stroke="#3c3c3c" stroke-width="0.28">0.02</text>
<line x1="259.30" y1="95.88" x2="261.10" y2="95.88" stroke="#8c8c8c" stroke-width="0.6"/>
<line x1="452.20" y1="95.88" x2="450.40" y2="95.88" stroke="#8c8c8c" stroke-width="0.6"/>
<text x="256.90" y="98.58" text-anchor="end" font-family='"Liberation Sans", Arial, sans-serif' font-size="5.9" fill="#3c3c3c" stroke="#3c3c3c" stroke-width="0.28">0.03</text>
<line x1="259.30" y1="73.17" x2="261.10" y2="73.17" stroke="#8c8c8c" stroke-width="0.6"/>
<line x1="452.20" y1="73.17" x2="450.40" y2="73.17" stroke="#8c8c8c" stroke-width="0.6"/>
<text x="256.90" y="75.87" text-anchor="end" font-family='"Liberation Sans", Arial, sans-serif' font-size="5.9" fill="#3c3c3c" stroke="#3c3c3c" stroke-width="0.28">0.04</text>
<line x1="259.30" y1="50.46" x2="261.10" y2="50.46" stroke="#8c8c8c" stroke-width="0.6"/>
<line x1="452.20" y1="50.46" x2="450.40" y2="50.46" stroke="#8c8c8c" stroke-width="0.6"/>
<text x="256.90" y="53.16" text-anchor="end" font-family='"Liberation Sans", Arial, sans-serif' font-size="5.9" fill="#3c3c3c" stroke="#3c3c3c" stroke-width="0.28">0.05</text>
<line x1="259.30" y1="27.75" x2="261.10" y2="27.75" stroke="#8c8c8c" stroke-width="0.6"/>
<line x1="452.20" y1="27.75" x2="450.40" y2="27.75" stroke="#8c8c8c" stroke-width="0.6"/>
<text x="256.90" y="30.45" text-anchor="end" font-family='"Liberation Sans", Arial, sans-serif' font-size="5.9" fill="#3c3c3c" stroke="#3c3c3c" stroke-width="0.28">0.06</text>
<rect x="263.50" y="20.60" width="184.00" height="23.00" fill="#fff" stroke="#8c8c8c" stroke-width="0.7"/>
<rect x="265.30" y="22.80" width="17.2" height="5.1" fill="#FFFCC2" stroke="#2a2a2a" stroke-width="0.8"/>
<text x="283.90" y="27.60" font-family='"Liberation Sans", Arial, sans-serif' font-size="5.4" fill="#262626" stroke="#262626" stroke-width="0.05">Experiments-HH-3.5-80°</text>
<line x1="265.80" y1="32.70" x2="269.90" y2="32.70" stroke="#FFFF00" stroke-width="1.1"/><line x1="272.80" y1="32.70" x2="278.00" y2="32.70" stroke="#FFFF00" stroke-width="1.1"/><line x1="281.90" y1="32.70" x2="282.70" y2="32.70" stroke="#FFFF00" stroke-width="1.1"/><path d="M274.40 30.13L276.30 32.70L274.40 35.26L272.50 32.70Z" fill="none" stroke="#FFFF00" stroke-width="1.1"/>
<text x="283.90" y="34.50" font-family='"Liberation Sans", Arial, sans-serif' font-size="5.4" fill="#262626" stroke="#262626" stroke-width="0.05">FEA-HH-3.5-80°</text>
<line x1="265.80" y1="39.50" x2="269.90" y2="39.50" stroke="#000000" stroke-width="1.1"/><line x1="272.80" y1="39.50" x2="278.00" y2="39.50" stroke="#000000" stroke-width="1.1"/><line x1="281.90" y1="39.50" x2="282.70" y2="39.50" stroke="#000000" stroke-width="1.1"/><rect x="272.79" y="37.88" width="3.23" height="3.23" fill="none" stroke="#000000" stroke-width="1.1"/>
<text x="283.90" y="41.30" font-family='"Liberation Sans", Arial, sans-serif' font-size="5.4" fill="#262626" stroke="#262626" stroke-width="0.05">ANN1-HH-3.5-80°</text>
<line x1="344.70" y1="25.80" x2="348.80" y2="25.80" stroke="#0000FF" stroke-width="1.1"/><line x1="351.70" y1="25.80" x2="356.90" y2="25.80" stroke="#0000FF" stroke-width="1.1"/><line x1="360.80" y1="25.80" x2="361.60" y2="25.80" stroke="#0000FF" stroke-width="1.1"/><path d="M353.30 23.71L355.20 27.32L351.40 27.32Z" fill="none" stroke="#0000FF" stroke-width="1.1"/>
<text x="362.80" y="27.60" font-family='"Liberation Sans", Arial, sans-serif' font-size="5.4" fill="#262626" stroke="#262626" stroke-width="0.05">GPR-HH-3.5-80°</text>
<line x1="344.70" y1="32.70" x2="348.80" y2="32.70" stroke="#FF00FF" stroke-width="1.1"/><line x1="351.70" y1="32.70" x2="356.90" y2="32.70" stroke="#FF00FF" stroke-width="1.1"/><line x1="360.80" y1="32.70" x2="361.60" y2="32.70" stroke="#FF00FF" stroke-width="1.1"/><path d="M353.30 34.79L355.20 31.18L351.40 31.18Z" fill="none" stroke="#FF00FF" stroke-width="1.1"/>
<text x="362.80" y="34.50" font-family='"Liberation Sans", Arial, sans-serif' font-size="5.4" fill="#262626" stroke="#262626" stroke-width="0.05">SVM-HH-3.5-80°</text>
<line x1="344.70" y1="39.50" x2="348.80" y2="39.50" stroke="#00FFFF" stroke-width="1.1"/><line x1="351.70" y1="39.50" x2="356.90" y2="39.50" stroke="#00FFFF" stroke-width="1.1"/><line x1="360.80" y1="39.50" x2="361.60" y2="39.50" stroke="#00FFFF" stroke-width="1.1"/><rect x="351.69" y="37.88" width="3.23" height="3.23" fill="none" stroke="#00FFFF" stroke-width="1.1"/>
<text x="362.80" y="41.30" font-family='"Liberation Sans", Arial, sans-serif' font-size="5.4" fill="#262626" stroke="#262626" stroke-width="0.05">ANN2-HH-3.5-80°</text>
<line x1="408.20" y1="25.80" x2="425.20" y2="25.80" stroke="#FF0000" stroke-width="2.2"/>
<text textLength="19.3" lengthAdjust="spacingAndGlyphs" x="426.20" y="27.60" font-family='"Liberation Sans", Arial, sans-serif' font-size="5.4" fill="#262626" stroke="#262626" stroke-width="0.05">Average</text>
<!-- panel c) -->
<text x="4.60" y="195.00" font-family='"Liberation Serif", "Times New Roman", serif' font-size="13" letter-spacing="-0.4" fill="#000" stroke="#000" stroke-width="0.25">c)</text>
<text x="126.65" y="194.50" text-anchor="middle" font-family='"Liberation Serif", "Times New Roman", serif' font-size="8.6" fill="#111" stroke="#111" stroke-width="0.22" textLength="111.5" lengthAdjust="spacingAndGlyphs">Re-entrant Honeycomb Lattices</text>
<text transform="translate(14.30,271.70) rotate(-90)" text-anchor="middle" font-family='"Liberation Serif", "Times New Roman", serif' font-size="7.6" fill="#1a1a1a" stroke="#1a1a1a" stroke-width="0.12" textLength="34" lengthAdjust="spacingAndGlyphs">Force (N)</text>
<text x="113.85" y="362.00" font-family='"Liberation Serif", "Times New Roman", serif' font-size="8.2" font-style="italic" fill="#1a1a1a" stroke="#1a1a1a" stroke-width="0.12">δ</text>
<text x="120.65" y="362.00" font-family='"Liberation Serif", "Times New Roman", serif' font-size="8.2" fill="#1a1a1a" stroke="#1a1a1a" stroke-width="0.12" textLength="19" lengthAdjust="spacingAndGlyphs">(mm)</text>
<path d="M33.10 345.40L166.74 234.28L213.52 234.28Z" fill="#FF9999" stroke="#111" stroke-width="0.85"/>
<path d="M188.93 232.02L190.83 234.58L188.93 237.15L187.03 234.58Z" fill="none" stroke="#FF0000" stroke-width="1.1"/>
<line x1="33.10" y1="345.40" x2="187.32" y2="234.28" stroke="#FF00FF" stroke-width="1.3" stroke-dasharray="5 3.2"/>
<line x1="33.10" y1="345.40" x2="188.93" y2="234.28" stroke="#00FFFF" stroke-width="1.3" stroke-dasharray="5 3.2"/>
<path d="M187.32 237.17L189.67 232.70L184.97 232.70Z" fill="#FF44FF" stroke="#FF00FF" stroke-width="1.1"/>
<path d="M188.93 231.16L191.13 235.34L186.73 235.34Z" fill="none" stroke="#0000FF" stroke-width="1.05"/>
<rect x="187.82" y="233.08" width="2.21" height="2.21" fill="#66FFFF" stroke="#00FFFF" stroke-width="0.9"/>
<path d="M33.10 342.70L35.10 345.40L33.10 348.10L31.10 345.40Z" fill="none" stroke="#FF0000" stroke-width="1.0"/>
<path d="M33.10 347.82L35.30 343.64L30.90 343.64Z" fill="none" stroke="#FF00FF" stroke-width="1.0"/>
<path d="M33.10 342.48L35.30 346.66L30.90 346.66Z" fill="none" stroke="#0000FF" stroke-width="1.0"/>
<rect x="31.74" y="344.04" width="2.72" height="2.72" fill="none" stroke="#00FFFF" stroke-width="1.0"/>
<line x1="33.10" y1="345.40" x2="190.00" y2="234.28" stroke="#FF0000" stroke-width="2.45"/>
<g>
<clipPath id="c76235"><rect x="76.80" y="235.50" width="24.00" height="46.90"/></clipPath>
<g clip-path="url(#c76235)" fill="none" stroke="#858585" stroke-width="0.9">
<path d="M81.10 223.66L79.60 227.07L81.10 230.48L82.60 227.07Z"/>
<path d="M86.30 223.66L84.80 227.07L86.30 230.48L87.80 227.07Z"/>
<path d="M91.50 223.66L90.00 227.07L91.50 230.48L93.00 227.07Z"/>
<path d="M96.70 223.66L95.20 227.07L96.70 230.48L98.20 227.07Z"/>
<line x1="76.80" y1="237.30" x2="100.80" y2="237.30"/>
<path d="M81.10 230.48L79.60 233.89L81.10 237.30L82.60 233.89Z"/>
<path d="M86.30 230.48L84.80 233.89L86.30 237.30L87.80 233.89Z"/>
<path d="M91.50 230.48L90.00 233.89L91.50 237.30L93.00 233.89Z"/>
<path d="M96.70 230.48L95.20 233.89L96.70 237.30L98.20 233.89Z"/>
<line x1="76.80" y1="244.12" x2="100.80" y2="244.12"/>
<path d="M81.10 237.30L79.60 240.71L81.10 244.12L82.60 240.71Z"/>
<path d="M86.30 237.30L84.80 240.71L86.30 244.12L87.80 240.71Z"/>
<path d="M91.50 237.30L90.00 240.71L91.50 244.12L93.00 240.71Z"/>
<path d="M96.70 237.30L95.20 240.71L96.70 244.12L98.20 240.71Z"/>
<line x1="76.80" y1="250.94" x2="100.80" y2="250.94"/>
<path d="M81.10 244.12L79.60 247.53L81.10 250.94L82.60 247.53Z"/>
<path d="M86.30 244.12L84.80 247.53L86.30 250.94L87.80 247.53Z"/>
<path d="M91.50 244.12L90.00 247.53L91.50 250.94L93.00 247.53Z"/>
<path d="M96.70 244.12L95.20 247.53L96.70 250.94L98.20 247.53Z"/>
<line x1="76.80" y1="257.76" x2="100.80" y2="257.76"/>
<path d="M81.10 250.94L79.60 254.35L81.10 257.76L82.60 254.35Z"/>
<path d="M86.30 250.94L84.80 254.35L86.30 257.76L87.80 254.35Z"/>
<path d="M91.50 250.94L90.00 254.35L91.50 257.76L93.00 254.35Z"/>
<path d="M96.70 250.94L95.20 254.35L96.70 257.76L98.20 254.35Z"/>
<line x1="76.80" y1="264.58" x2="100.80" y2="264.58"/>
<path d="M81.10 257.76L79.60 261.17L81.10 264.58L82.60 261.17Z"/>
<path d="M86.30 257.76L84.80 261.17L86.30 264.58L87.80 261.17Z"/>
<path d="M91.50 257.76L90.00 261.17L91.50 264.58L93.00 261.17Z"/>
<path d="M96.70 257.76L95.20 261.17L96.70 264.58L98.20 261.17Z"/>
<line x1="76.80" y1="271.40" x2="100.80" y2="271.40"/>
<path d="M81.10 264.58L79.60 267.99L81.10 271.40L82.60 267.99Z"/>
<path d="M86.30 264.58L84.80 267.99L86.30 271.40L87.80 267.99Z"/>
<path d="M91.50 264.58L90.00 267.99L91.50 271.40L93.00 267.99Z"/>
<path d="M96.70 264.58L95.20 267.99L96.70 271.40L98.20 267.99Z"/>
<line x1="76.80" y1="278.22" x2="100.80" y2="278.22"/>
<path d="M81.10 271.40L79.60 274.81L81.10 278.22L82.60 274.81Z"/>
<path d="M86.30 271.40L84.80 274.81L86.30 278.22L87.80 274.81Z"/>
<path d="M91.50 271.40L90.00 274.81L91.50 278.22L93.00 274.81Z"/>
<path d="M96.70 271.40L95.20 274.81L96.70 278.22L98.20 274.81Z"/>
<line x1="76.80" y1="285.04" x2="100.80" y2="285.04"/>
<path d="M81.10 278.22L79.60 281.63L81.10 285.04L82.60 281.63Z"/>
<path d="M86.30 278.22L84.80 281.63L86.30 285.04L87.80 281.63Z"/>
<path d="M91.50 278.22L90.00 281.63L91.50 285.04L93.00 281.63Z"/>
<path d="M96.70 278.22L95.20 281.63L96.70 285.04L98.20 281.63Z"/>
<line x1="76.80" y1="291.86" x2="100.80" y2="291.86"/>
<path d="M81.10 285.04L79.60 288.45L81.10 291.86L82.60 288.45Z"/>
<path d="M86.30 285.04L84.80 288.45L86.30 291.86L87.80 288.45Z"/>
<path d="M91.50 285.04L90.00 288.45L91.50 291.86L93.00 288.45Z"/>
<path d="M96.70 285.04L95.20 288.45L96.70 291.86L98.20 288.45Z"/>
</g>
<line x1="76.80" y1="235.70" x2="100.80" y2="235.70" stroke="#666" stroke-width="1.4"/>
<line x1="76.80" y1="282.20" x2="100.80" y2="282.20" stroke="#666" stroke-width="1.4"/>
</g>
<rect x="33.10" y="198.00" width="187.10" height="147.40" fill="none" stroke="#8c8c8c" stroke-width="0.8"/>
<line x1="33.10" y1="345.40" x2="33.10" y2="343.60" stroke="#8c8c8c" stroke-width="0.6"/>
<line x1="33.10" y1="198.00" x2="33.10" y2="199.80" stroke="#8c8c8c" stroke-width="0.6"/>
<text x="33.60" y="353.70" text-anchor="middle" font-family='"Liberation Sans", Arial, sans-serif' font-size="5.9" fill="#3c3c3c" stroke="#3c3c3c" stroke-width="0.28">0</text>
<line x1="59.83" y1="345.40" x2="59.83" y2="343.60" stroke="#8c8c8c" stroke-width="0.6"/>
<line x1="59.83" y1="198.00" x2="59.83" y2="199.80" stroke="#8c8c8c" stroke-width="0.6"/>
<text x="60.33" y="353.70" text-anchor="middle" font-family='"Liberation Sans", Arial, sans-serif' font-size="5.9" fill="#3c3c3c" stroke="#3c3c3c" stroke-width="0.28">0.1</text>
<line x1="86.56" y1="345.40" x2="86.56" y2="343.60" stroke="#8c8c8c" stroke-width="0.6"/>
<line x1="86.56" y1="198.00" x2="86.56" y2="199.80" stroke="#8c8c8c" stroke-width="0.6"/>
<text x="87.06" y="353.70" text-anchor="middle" font-family='"Liberation Sans", Arial, sans-serif' font-size="5.9" fill="#3c3c3c" stroke="#3c3c3c" stroke-width="0.28">0.2</text>
<line x1="113.29" y1="345.40" x2="113.29" y2="343.60" stroke="#8c8c8c" stroke-width="0.6"/>
<line x1="113.29" y1="198.00" x2="113.29" y2="199.80" stroke="#8c8c8c" stroke-width="0.6"/>
<text x="113.79" y="353.70" text-anchor="middle" font-family='"Liberation Sans", Arial, sans-serif' font-size="5.9" fill="#3c3c3c" stroke="#3c3c3c" stroke-width="0.28">0.3</text>
<line x1="140.01" y1="345.40" x2="140.01" y2="343.60" stroke="#8c8c8c" stroke-width="0.6"/>
<line x1="140.01" y1="198.00" x2="140.01" y2="199.80" stroke="#8c8c8c" stroke-width="0.6"/>
<text x="140.51" y="353.70" text-anchor="middle" font-family='"Liberation Sans", Arial, sans-serif' font-size="5.9" fill="#3c3c3c" stroke="#3c3c3c" stroke-width="0.28">0.4</text>
<line x1="166.74" y1="345.40" x2="166.74" y2="343.60" stroke="#8c8c8c" stroke-width="0.6"/>
<line x1="166.74" y1="198.00" x2="166.74" y2="199.80" stroke="#8c8c8c" stroke-width="0.6"/>
<text x="167.24" y="353.70" text-anchor="middle" font-family='"Liberation Sans", Arial, sans-serif' font-size="5.9" fill="#3c3c3c" stroke="#3c3c3c" stroke-width="0.28">0.5</text>
<line x1="193.47" y1="345.40" x2="193.47" y2="343.60" stroke="#8c8c8c" stroke-width="0.6"/>
<line x1="193.47" y1="198.00" x2="193.47" y2="199.80" stroke="#8c8c8c" stroke-width="0.6"/>
<text x="193.97" y="353.70" text-anchor="middle" font-family='"Liberation Sans", Arial, sans-serif' font-size="5.9" fill="#3c3c3c" stroke="#3c3c3c" stroke-width="0.28">0.6</text>
<line x1="220.20" y1="345.40" x2="220.20" y2="343.60" stroke="#8c8c8c" stroke-width="0.6"/>
<line x1="220.20" y1="198.00" x2="220.20" y2="199.80" stroke="#8c8c8c" stroke-width="0.6"/>
<text x="220.70" y="353.70" text-anchor="middle" font-family='"Liberation Sans", Arial, sans-serif' font-size="5.9" fill="#3c3c3c" stroke="#3c3c3c" stroke-width="0.28">0.7</text>
<line x1="33.10" y1="345.40" x2="34.90" y2="345.40" stroke="#8c8c8c" stroke-width="0.6"/>
<line x1="220.20" y1="345.40" x2="218.40" y2="345.40" stroke="#8c8c8c" stroke-width="0.6"/>
<text x="30.70" y="348.10" text-anchor="end" font-family='"Liberation Sans", Arial, sans-serif' font-size="5.9" fill="#3c3c3c" stroke="#3c3c3c" stroke-width="0.28">0</text>
<line x1="33.10" y1="322.72" x2="34.90" y2="322.72" stroke="#8c8c8c" stroke-width="0.6"/>
<line x1="220.20" y1="322.72" x2="218.40" y2="322.72" stroke="#8c8c8c" stroke-width="0.6"/>
<text x="30.70" y="325.42" text-anchor="end" font-family='"Liberation Sans", Arial, sans-serif' font-size="5.9" fill="#3c3c3c" stroke="#3c3c3c" stroke-width="0.28">0.01</text>
<line x1="33.10" y1="300.05" x2="34.90" y2="300.05" stroke="#8c8c8c" stroke-width="0.6"/>
<line x1="220.20" y1="300.05" x2="218.40" y2="300.05" stroke="#8c8c8c" stroke-width="0.6"/>
<text x="30.70" y="302.75" text-anchor="end" font-family='"Liberation Sans", Arial, sans-serif' font-size="5.9" fill="#3c3c3c" stroke="#3c3c3c" stroke-width="0.28">0.02</text>
<line x1="33.10" y1="277.37" x2="34.90" y2="277.37" stroke="#8c8c8c" stroke-width="0.6"/>
<line x1="220.20" y1="277.37" x2="218.40" y2="277.37" stroke="#8c8c8c" stroke-width="0.6"/>
<text x="30.70" y="280.07" text-anchor="end" font-family='"Liberation Sans", Arial, sans-serif' font-size="5.9" fill="#3c3c3c" stroke="#3c3c3c" stroke-width="0.28">0.03</text>
<line x1="33.10" y1="254.69" x2="34.90" y2="254.69" stroke="#8c8c8c" stroke-width="0.6"/>
<line x1="220.20" y1="254.69" x2="218.40" y2="254.69" stroke="#8c8c8c" stroke-width="0.6"/>
<text x="30.70" y="257.39" text-anchor="end" font-family='"Liberation Sans", Arial, sans-serif' font-size="5.9" fill="#3c3c3c" stroke="#3c3c3c" stroke-width="0.28">0.04</text>
<line x1="33.10" y1="232.02" x2="34.90" y2="232.02" stroke="#8c8c8c" stroke-width="0.6"/>
<line x1="220.20" y1="232.02" x2="218.40" y2="232.02" stroke="#8c8c8c" stroke-width="0.6"/>
<text x="30.70" y="234.72" text-anchor="end" font-family='"Liberation Sans", Arial, sans-serif' font-size="5.9" fill="#3c3c3c" stroke="#3c3c3c" stroke-width="0.28">0.05</text>
<line x1="33.10" y1="209.34" x2="34.90" y2="209.34" stroke="#8c8c8c" stroke-width="0.6"/>
<line x1="220.20" y1="209.34" x2="218.40" y2="209.34" stroke="#8c8c8c" stroke-width="0.6"/>
<text x="30.70" y="212.04" text-anchor="end" font-family='"Liberation Sans", Arial, sans-serif' font-size="5.9" fill="#3c3c3c" stroke="#3c3c3c" stroke-width="0.28">0.06</text>
<rect x="37.60" y="202.30" width="178.10" height="23.00" fill="#fff" stroke="#8c8c8c" stroke-width="0.7"/>
<rect x="39.40" y="204.50" width="17.2" height="5.1" fill="#FF9999" stroke="#2a2a2a" stroke-width="0.8"/>
<text x="58.00" y="209.30" font-family='"Liberation Sans", Arial, sans-serif' font-size="5.4" fill="#262626" stroke="#262626" stroke-width="0.05">Experiments-RH-5.5-0°</text>
<line x1="39.90" y1="214.40" x2="44.00" y2="214.40" stroke="#FF0000" stroke-width="1.1"/><line x1="46.90" y1="214.40" x2="52.10" y2="214.40" stroke="#FF0000" stroke-width="1.1"/><line x1="56.00" y1="214.40" x2="56.80" y2="214.40" stroke="#FF0000" stroke-width="1.1"/><path d="M48.50 211.84L50.40 214.40L48.50 216.97L46.60 214.40Z" fill="none" stroke="#FF0000" stroke-width="1.1"/>
<text x="58.00" y="216.20" font-family='"Liberation Sans", Arial, sans-serif' font-size="5.4" fill="#262626" stroke="#262626" stroke-width="0.05">FEA-RH-5.5-0°</text>
<line x1="39.90" y1="221.20" x2="44.00" y2="221.20" stroke="#000000" stroke-width="1.1"/><line x1="46.90" y1="221.20" x2="52.10" y2="221.20" stroke="#000000" stroke-width="1.1"/><line x1="56.00" y1="221.20" x2="56.80" y2="221.20" stroke="#000000" stroke-width="1.1"/><rect x="46.88" y="219.59" width="3.23" height="3.23" fill="none" stroke="#000000" stroke-width="1.1"/>
<text x="58.00" y="223.00" font-family='"Liberation Sans", Arial, sans-serif' font-size="5.4" fill="#262626" stroke="#262626" stroke-width="0.05">ANN1-RH-5.5-0°</text>
<line x1="115.40" y1="207.50" x2="119.50" y2="207.50" stroke="#0000FF" stroke-width="1.1"/><line x1="122.40" y1="207.50" x2="127.60" y2="207.50" stroke="#0000FF" stroke-width="1.1"/><line x1="131.50" y1="207.50" x2="132.30" y2="207.50" stroke="#0000FF" stroke-width="1.1"/><path d="M124.00 205.41L125.90 209.02L122.10 209.02Z" fill="none" stroke="#0000FF" stroke-width="1.1"/>
<text x="133.50" y="209.30" font-family='"Liberation Sans", Arial, sans-serif' font-size="5.4" fill="#262626" stroke="#262626" stroke-width="0.05">GPR-RH-5.5-0°</text>
<line x1="115.40" y1="214.40" x2="119.50" y2="214.40" stroke="#FF00FF" stroke-width="1.1"/><line x1="122.40" y1="214.40" x2="127.60" y2="214.40" stroke="#FF00FF" stroke-width="1.1"/><line x1="131.50" y1="214.40" x2="132.30" y2="214.40" stroke="#FF00FF" stroke-width="1.1"/><path d="M124.00 216.49L125.90 212.88L122.10 212.88Z" fill="none" stroke="#FF00FF" stroke-width="1.1"/>
<text x="133.50" y="216.20" font-family='"Liberation Sans", Arial, sans-serif' font-size="5.4" fill="#262626" stroke="#262626" stroke-width="0.05">SVM-RH-5.5-0°</text>
<line x1="115.40" y1="221.20" x2="119.50" y2="221.20" stroke="#00FFFF" stroke-width="1.1"/><line x1="122.40" y1="221.20" x2="127.60" y2="221.20" stroke="#00FFFF" stroke-width="1.1"/><line x1="131.50" y1="221.20" x2="132.30" y2="221.20" stroke="#00FFFF" stroke-width="1.1"/><rect x="122.39" y="219.59" width="3.23" height="3.23" fill="none" stroke="#00FFFF" stroke-width="1.1"/>
<text x="133.50" y="223.00" font-family='"Liberation Sans", Arial, sans-serif' font-size="5.4" fill="#262626" stroke="#262626" stroke-width="0.05">ANN2-RH-5.5-0°</text>
<line x1="176.40" y1="207.50" x2="193.40" y2="207.50" stroke="#FF0000" stroke-width="2.2"/>
<text textLength="19.3" lengthAdjust="spacingAndGlyphs" x="194.40" y="209.30" font-family='"Liberation Sans", Arial, sans-serif' font-size="5.4" fill="#262626" stroke="#262626" stroke-width="0.05">Average</text>
<!-- panel d) -->
<text x="225.70" y="195.00" font-family='"Liberation Serif", "Times New Roman", serif' font-size="13" letter-spacing="-0.4" fill="#000" stroke="#000" stroke-width="0.25">d)</text>
<text x="354.50" y="194.80" text-anchor="middle" font-family='"Liberation Serif", "Times New Roman", serif' font-size="8.6" fill="#111" stroke="#111" stroke-width="0.22" textLength="111.5" lengthAdjust="spacingAndGlyphs">Re-entrant Honeycomb Lattices</text>
<text transform="translate(239.80,271.80) rotate(-90)" text-anchor="middle" font-family='"Liberation Serif", "Times New Roman", serif' font-size="7.6" fill="#1a1a1a" stroke="#1a1a1a" stroke-width="0.12" textLength="34" lengthAdjust="spacingAndGlyphs">Force (N)</text>
<text x="341.70" y="361.90" font-family='"Liberation Serif", "Times New Roman", serif' font-size="8.2" font-style="italic" fill="#1a1a1a" stroke="#1a1a1a" stroke-width="0.12">δ</text>
<text x="348.50" y="361.90" font-family='"Liberation Serif", "Times New Roman", serif' font-size="8.2" fill="#1a1a1a" stroke="#1a1a1a" stroke-width="0.12" textLength="19" lengthAdjust="spacingAndGlyphs">(mm)</text>
<path d="M258.60 345.30L423.42 234.48L431.48 234.48Z" fill="#9B9BFA" stroke="#111" stroke-width="0.85"/>
<path d="M438.89 232.22L440.79 234.78L438.89 237.35L436.99 234.78Z" fill="none" stroke="#0000FF" stroke-width="1.1"/>
<line x1="258.60" y1="345.30" x2="404.37" y2="234.48" stroke="#FF00FF" stroke-width="1.3" stroke-dasharray="5 3.2"/>
<line x1="258.60" y1="345.30" x2="438.89" y2="234.48" stroke="#00FFFF" stroke-width="1.3" stroke-dasharray="5 3.2"/>
<path d="M404.37 237.37L406.72 232.90L402.02 232.90Z" fill="#FF44FF" stroke="#FF00FF" stroke-width="1.1"/>
<path d="M438.89 231.36L441.09 235.54L436.69 235.54Z" fill="none" stroke="#0000FF" stroke-width="1.05"/>
<rect x="437.79" y="233.28" width="2.21" height="2.21" fill="#66FFFF" stroke="#00FFFF" stroke-width="0.9"/>
<path d="M258.60 342.60L260.60 345.30L258.60 348.00L256.60 345.30Z" fill="none" stroke="#0000FF" stroke-width="1.0"/>
<path d="M258.60 347.72L260.80 343.54L256.40 343.54Z" fill="none" stroke="#FF00FF" stroke-width="1.0"/>
<path d="M258.60 342.38L260.80 346.56L256.40 346.56Z" fill="none" stroke="#0000FF" stroke-width="1.0"/>
<rect x="257.24" y="343.94" width="2.72" height="2.72" fill="none" stroke="#00FFFF" stroke-width="1.0"/>
<line x1="258.60" y1="345.30" x2="427.19" y2="234.48" stroke="#FF0000" stroke-width="2.45"/>
<g>
<clipPath id="c302235"><rect x="302.20" y="236.40" width="24.40" height="47.20"/></clipPath>
<g clip-path="url(#c302235)" fill="none" stroke="#444" stroke-width="0.9">
<polyline points="289.60,237.10 292.60,231.80 295.60,237.10 298.60,231.80 301.60,237.10 304.60,231.80 307.60,237.10 310.60,231.80 313.60,237.10 316.60,231.80 319.60,237.10 322.60,231.80 325.60,237.10 328.60,231.80 331.60,237.10 334.60,231.80 337.60,237.10 340.60,231.80 343.60,237.10 346.60,231.80"/>
<line x1="289.60" y1="231.80" x2="292.60" y2="231.80"/>
<line x1="295.60" y1="231.80" x2="298.60" y2="231.80"/>
<line x1="301.60" y1="231.80" x2="304.60" y2="231.80"/>
<line x1="307.60" y1="231.80" x2="310.60" y2="231.80"/>
<line x1="313.60" y1="231.80" x2="316.60" y2="231.80"/>
<line x1="319.60" y1="231.80" x2="322.60" y2="231.80"/>
<line x1="325.60" y1="231.80" x2="328.60" y2="231.80"/>
<line x1="331.60" y1="231.80" x2="334.60" y2="231.80"/>
<line x1="337.60" y1="231.80" x2="340.60" y2="231.80"/>
<line x1="343.60" y1="231.80" x2="346.60" y2="231.80"/>
<polyline points="289.60,242.40 292.60,237.10 295.60,242.40 298.60,237.10 301.60,242.40 304.60,237.10 307.60,242.40 310.60,237.10 313.60,242.40 316.60,237.10 319.60,242.40 322.60,237.10 325.60,242.40 328.60,237.10 331.60,242.40 334.60,237.10 337.60,242.40 340.60,237.10 343.60,242.40 346.60,237.10"/>
<line x1="289.60" y1="237.10" x2="292.60" y2="237.10"/>
<line x1="295.60" y1="237.10" x2="298.60" y2="237.10"/>
<line x1="301.60" y1="237.10" x2="304.60" y2="237.10"/>
<line x1="307.60" y1="237.10" x2="310.60" y2="237.10"/>
<line x1="313.60" y1="237.10" x2="316.60" y2="237.10"/>
<line x1="319.60" y1="237.10" x2="322.60" y2="237.10"/>
<line x1="325.60" y1="237.10" x2="328.60" y2="237.10"/>
<line x1="331.60" y1="237.10" x2="334.60" y2="237.10"/>
<line x1="337.60" y1="237.10" x2="340.60" y2="237.10"/>
<line x1="343.60" y1="237.10" x2="346.60" y2="237.10"/>
<polyline points="289.60,247.70 292.60,242.40 295.60,247.70 298.60,242.40 301.60,247.70 304.60,242.40 307.60,247.70 310.60,242.40 313.60,247.70 316.60,242.40 319.60,247.70 322.60,242.40 325.60,247.70 328.60,242.40 331.60,247.70 334.60,242.40 337.60,247.70 340.60,242.40 343.60,247.70 346.60,242.40"/>
<line x1="289.60" y1="242.40" x2="292.60" y2="242.40"/>
<line x1="295.60" y1="242.40" x2="298.60" y2="242.40"/>
<line x1="301.60" y1="242.40" x2="304.60" y2="242.40"/>
<line x1="307.60" y1="242.40" x2="310.60" y2="242.40"/>
<line x1="313.60" y1="242.40" x2="316.60" y2="242.40"/>
<line x1="319.60" y1="242.40" x2="322.60" y2="242.40"/>
<line x1="325.60" y1="242.40" x2="328.60" y2="242.40"/>
<line x1="331.60" y1="242.40" x2="334.60" y2="242.40"/>
<line x1="337.60" y1="242.40" x2="340.60" y2="242.40"/>
<line x1="343.60" y1="242.40" x2="346.60" y2="242.40"/>
<polyline points="289.60,253.00 292.60,247.70 295.60,253.00 298.60,247.70 301.60,253.00 304.60,247.70 307.60,253.00 310.60,247.70 313.60,253.00 316.60,247.70 319.60,253.00 322.60,247.70 325.60,253.00 328.60,247.70 331.60,253.00 334.60,247.70 337.60,253.00 340.60,247.70 343.60,253.00 346.60,247.70"/>
<line x1="289.60" y1="247.70" x2="292.60" y2="247.70"/>
<line x1="295.60" y1="247.70" x2="298.60" y2="247.70"/>
<line x1="301.60" y1="247.70" x2="304.60" y2="247.70"/>
<line x1="307.60" y1="247.70" x2="310.60" y2="247.70"/>
<line x1="313.60" y1="247.70" x2="316.60" y2="247.70"/>
<line x1="319.60" y1="247.70" x2="322.60" y2="247.70"/>
<line x1="325.60" y1="247.70" x2="328.60" y2="247.70"/>
<line x1="331.60" y1="247.70" x2="334.60" y2="247.70"/>
<line x1="337.60" y1="247.70" x2="340.60" y2="247.70"/>
<line x1="343.60" y1="247.70" x2="346.60" y2="247.70"/>
<polyline points="289.60,258.30 292.60,253.00 295.60,258.30 298.60,253.00 301.60,258.30 304.60,253.00 307.60,258.30 310.60,253.00 313.60,258.30 316.60,253.00 319.60,258.30 322.60,253.00 325.60,258.30 328.60,253.00 331.60,258.30 334.60,253.00 337.60,258.30 340.60,253.00 343.60,258.30 346.60,253.00"/>
<line x1="289.60" y1="253.00" x2="292.60" y2="253.00"/>
<line x1="295.60" y1="253.00" x2="298.60" y2="253.00"/>
<line x1="301.60" y1="253.00" x2="304.60" y2="253.00"/>
<line x1="307.60" y1="253.00" x2="310.60" y2="253.00"/>
<line x1="313.60" y1="253.00" x2="316.60" y2="253.00"/>
<line x1="319.60" y1="253.00" x2="322.60" y2="253.00"/>
<line x1="325.60" y1="253.00" x2="328.60" y2="253.00"/>
<line x1="331.60" y1="253.00" x2="334.60" y2="253.00"/>
<line x1="337.60" y1="253.00" x2="340.60" y2="253.00"/>
<line x1="343.60" y1="253.00" x2="346.60" y2="253.00"/>
<polyline points="289.60,263.60 292.60,258.30 295.60,263.60 298.60,258.30 301.60,263.60 304.60,258.30 307.60,263.60 310.60,258.30 313.60,263.60 316.60,258.30 319.60,263.60 322.60,258.30 325.60,263.60 328.60,258.30 331.60,263.60 334.60,258.30 337.60,263.60 340.60,258.30 343.60,263.60 346.60,258.30"/>
<line x1="289.60" y1="258.30" x2="292.60" y2="258.30"/>
<line x1="295.60" y1="258.30" x2="298.60" y2="258.30"/>
<line x1="301.60" y1="258.30" x2="304.60" y2="258.30"/>
<line x1="307.60" y1="258.30" x2="310.60" y2="258.30"/>
<line x1="313.60" y1="258.30" x2="316.60" y2="258.30"/>
<line x1="319.60" y1="258.30" x2="322.60" y2="258.30"/>
<line x1="325.60" y1="258.30" x2="328.60" y2="258.30"/>
<line x1="331.60" y1="258.30" x2="334.60" y2="258.30"/>
<line x1="337.60" y1="258.30" x2="340.60" y2="258.30"/>
<line x1="343.60" y1="258.30" x2="346.60" y2="258.30"/>
<polyline points="289.60,268.90 292.60,263.60 295.60,268.90 298.60,263.60 301.60,268.90 304.60,263.60 307.60,268.90 310.60,263.60 313.60,268.90 316.60,263.60 319.60,268.90 322.60,263.60 325.60,268.90 328.60,263.60 331.60,268.90 334.60,263.60 337.60,268.90 340.60,263.60 343.60,268.90 346.60,263.60"/>
<line x1="289.60" y1="263.60" x2="292.60" y2="263.60"/>
<line x1="295.60" y1="263.60" x2="298.60" y2="263.60"/>
<line x1="301.60" y1="263.60" x2="304.60" y2="263.60"/>
<line x1="307.60" y1="263.60" x2="310.60" y2="263.60"/>
<line x1="313.60" y1="263.60" x2="316.60" y2="263.60"/>
<line x1="319.60" y1="263.60" x2="322.60" y2="263.60"/>
<line x1="325.60" y1="263.60" x2="328.60" y2="263.60"/>
<line x1="331.60" y1="263.60" x2="334.60" y2="263.60"/>
<line x1="337.60" y1="263.60" x2="340.60" y2="263.60"/>
<line x1="343.60" y1="263.60" x2="346.60" y2="263.60"/>
<polyline points="289.60,274.20 292.60,268.90 295.60,274.20 298.60,268.90 301.60,274.20 304.60,268.90 307.60,274.20 310.60,268.90 313.60,274.20 316.60,268.90 319.60,274.20 322.60,268.90 325.60,274.20 328.60,268.90 331.60,274.20 334.60,268.90 337.60,274.20 340.60,268.90 343.60,274.20 346.60,268.90"/>
<line x1="289.60" y1="268.90" x2="292.60" y2="268.90"/>
<line x1="295.60" y1="268.90" x2="298.60" y2="268.90"/>
<line x1="301.60" y1="268.90" x2="304.60" y2="268.90"/>
<line x1="307.60" y1="268.90" x2="310.60" y2="268.90"/>
<line x1="313.60" y1="268.90" x2="316.60" y2="268.90"/>
<line x1="319.60" y1="268.90" x2="322.60" y2="268.90"/>
<line x1="325.60" y1="268.90" x2="328.60" y2="268.90"/>
<line x1="331.60" y1="268.90" x2="334.60" y2="268.90"/>
<line x1="337.60" y1="268.90" x2="340.60" y2="268.90"/>
<line x1="343.60" y1="268.90" x2="346.60" y2="268.90"/>
<polyline points="289.60,279.50 292.60,274.20 295.60,279.50 298.60,274.20 301.60,279.50 304.60,274.20 307.60,279.50 310.60,274.20 313.60,279.50 316.60,274.20 319.60,279.50 322.60,274.20 325.60,279.50 328.60,274.20 331.60,279.50 334.60,274.20 337.60,279.50 340.60,274.20 343.60,279.50 346.60,274.20"/>
<line x1="289.60" y1="274.20" x2="292.60" y2="274.20"/>
<line x1="295.60" y1="274.20" x2="298.60" y2="274.20"/>
<line x1="301.60" y1="274.20" x2="304.60" y2="274.20"/>
<line x1="307.60" y1="274.20" x2="310.60" y2="274.20"/>
<line x1="313.60" y1="274.20" x2="316.60" y2="274.20"/>
<line x1="319.60" y1="274.20" x2="322.60" y2="274.20"/>
<line x1="325.60" y1="274.20" x2="328.60" y2="274.20"/>
<line x1="331.60" y1="274.20" x2="334.60" y2="274.20"/>
<line x1="337.60" y1="274.20" x2="340.60" y2="274.20"/>
<line x1="343.60" y1="274.20" x2="346.60" y2="274.20"/>
<polyline points="289.60,284.80 292.60,279.50 295.60,284.80 298.60,279.50 301.60,284.80 304.60,279.50 307.60,284.80 310.60,279.50 313.60,284.80 316.60,279.50 319.60,284.80 322.60,279.50 325.60,284.80 328.60,279.50 331.60,284.80 334.60,279.50 337.60,284.80 340.60,279.50 343.60,284.80 346.60,279.50"/>
<line x1="289.60" y1="279.50" x2="292.60" y2="279.50"/>
<line x1="295.60" y1="279.50" x2="298.60" y2="279.50"/>
<line x1="301.60" y1="279.50" x2="304.60" y2="279.50"/>
<line x1="307.60" y1="279.50" x2="310.60" y2="279.50"/>
<line x1="313.60" y1="279.50" x2="316.60" y2="279.50"/>
<line x1="319.60" y1="279.50" x2="322.60" y2="279.50"/>
<line x1="325.60" y1="279.50" x2="328.60" y2="279.50"/>
<line x1="331.60" y1="279.50" x2="334.60" y2="279.50"/>
<line x1="337.60" y1="279.50" x2="340.60" y2="279.50"/>
<line x1="343.60" y1="279.50" x2="346.60" y2="279.50"/>
<polyline points="289.60,290.10 292.60,284.80 295.60,290.10 298.60,284.80 301.60,290.10 304.60,284.80 307.60,290.10 310.60,284.80 313.60,290.10 316.60,284.80 319.60,290.10 322.60,284.80 325.60,290.10 328.60,284.80 331.60,290.10 334.60,284.80 337.60,290.10 340.60,284.80 343.60,290.10 346.60,284.80"/>
<line x1="289.60" y1="284.80" x2="292.60" y2="284.80"/>
<line x1="295.60" y1="284.80" x2="298.60" y2="284.80"/>
<line x1="301.60" y1="284.80" x2="304.60" y2="284.80"/>
<line x1="307.60" y1="284.80" x2="310.60" y2="284.80"/>
<line x1="313.60" y1="284.80" x2="316.60" y2="284.80"/>
<line x1="319.60" y1="284.80" x2="322.60" y2="284.80"/>
<line x1="325.60" y1="284.80" x2="328.60" y2="284.80"/>
<line x1="331.60" y1="284.80" x2="334.60" y2="284.80"/>
<line x1="337.60" y1="284.80" x2="340.60" y2="284.80"/>
<line x1="343.60" y1="284.80" x2="346.60" y2="284.80"/>
<polyline points="289.60,295.40 292.60,290.10 295.60,295.40 298.60,290.10 301.60,295.40 304.60,290.10 307.60,295.40 310.60,290.10 313.60,295.40 316.60,290.10 319.60,295.40 322.60,290.10 325.60,295.40 328.60,290.10 331.60,295.40 334.60,290.10 337.60,295.40 340.60,290.10 343.60,295.40 346.60,290.10"/>
<line x1="289.60" y1="290.10" x2="292.60" y2="290.10"/>
<line x1="295.60" y1="290.10" x2="298.60" y2="290.10"/>
<line x1="301.60" y1="290.10" x2="304.60" y2="290.10"/>
<line x1="307.60" y1="290.10" x2="310.60" y2="290.10"/>
<line x1="313.60" y1="290.10" x2="316.60" y2="290.10"/>
<line x1="319.60" y1="290.10" x2="322.60" y2="290.10"/>
<line x1="325.60" y1="290.10" x2="328.60" y2="290.10"/>
<line x1="331.60" y1="290.10" x2="334.60" y2="290.10"/>
<line x1="337.60" y1="290.10" x2="340.60" y2="290.10"/>
<line x1="343.60" y1="290.10" x2="346.60" y2="290.10"/>
<polyline points="289.60,300.70 292.60,295.40 295.60,300.70 298.60,295.40 301.60,300.70 304.60,295.40 307.60,300.70 310.60,295.40 313.60,300.70 316.60,295.40 319.60,300.70 322.60,295.40 325.60,300.70 328.60,295.40 331.60,300.70 334.60,295.40 337.60,300.70 340.60,295.40 343.60,300.70 346.60,295.40"/>
<line x1="289.60" y1="295.40" x2="292.60" y2="295.40"/>
<line x1="295.60" y1="295.40" x2="298.60" y2="295.40"/>
<line x1="301.60" y1="295.40" x2="304.60" y2="295.40"/>
<line x1="307.60" y1="295.40" x2="310.60" y2="295.40"/>
<line x1="313.60" y1="295.40" x2="316.60" y2="295.40"/>
<line x1="319.60" y1="295.40" x2="322.60" y2="295.40"/>
<line x1="325.60" y1="295.40" x2="328.60" y2="295.40"/>
<line x1="331.60" y1="295.40" x2="334.60" y2="295.40"/>
<line x1="337.60" y1="295.40" x2="340.60" y2="295.40"/>
<line x1="343.60" y1="295.40" x2="346.60" y2="295.40"/>
</g>
<line x1="302.20" y1="236.60" x2="326.60" y2="236.60" stroke="#666" stroke-width="1.4"/>
<line x1="302.20" y1="283.40" x2="326.60" y2="283.40" stroke="#666" stroke-width="1.4"/>
</g>
<rect x="258.60" y="198.30" width="191.80" height="147.00" fill="none" stroke="#8c8c8c" stroke-width="0.8"/>
<line x1="258.60" y1="345.30" x2="258.60" y2="343.50" stroke="#8c8c8c" stroke-width="0.6"/>
<line x1="258.60" y1="198.30" x2="258.60" y2="200.10" stroke="#8c8c8c" stroke-width="0.6"/>
<text x="259.10" y="353.60" text-anchor="middle" font-family='"Liberation Sans", Arial, sans-serif' font-size="5.9" fill="#3c3c3c" stroke="#3c3c3c" stroke-width="0.28">0</text>
<line x1="322.53" y1="345.30" x2="322.53" y2="343.50" stroke="#8c8c8c" stroke-width="0.6"/>
<line x1="322.53" y1="198.30" x2="322.53" y2="200.10" stroke="#8c8c8c" stroke-width="0.6"/>
<text x="323.03" y="353.60" text-anchor="middle" font-family='"Liberation Sans", Arial, sans-serif' font-size="5.9" fill="#3c3c3c" stroke="#3c3c3c" stroke-width="0.28">0.5</text>
<line x1="386.47" y1="345.30" x2="386.47" y2="343.50" stroke="#8c8c8c" stroke-width="0.6"/>
<line x1="386.47" y1="198.30" x2="386.47" y2="200.10" stroke="#8c8c8c" stroke-width="0.6"/>
<text x="386.97" y="353.60" text-anchor="middle" font-family='"Liberation Sans", Arial, sans-serif' font-size="5.9" fill="#3c3c3c" stroke="#3c3c3c" stroke-width="0.28">1</text>
<line x1="450.40" y1="345.30" x2="450.40" y2="343.50" stroke="#8c8c8c" stroke-width="0.6"/>
<line x1="450.40" y1="198.30" x2="450.40" y2="200.10" stroke="#8c8c8c" stroke-width="0.6"/>
<text x="450.90" y="353.60" text-anchor="middle" font-family='"Liberation Sans", Arial, sans-serif' font-size="5.9" fill="#3c3c3c" stroke="#3c3c3c" stroke-width="0.28">1.5</text>
<line x1="258.60" y1="345.30" x2="260.40" y2="345.30" stroke="#8c8c8c" stroke-width="0.6"/>
<line x1="450.40" y1="345.30" x2="448.60" y2="345.30" stroke="#8c8c8c" stroke-width="0.6"/>
<text x="256.20" y="348.00" text-anchor="end" font-family='"Liberation Sans", Arial, sans-serif' font-size="5.9" fill="#3c3c3c" stroke="#3c3c3c" stroke-width="0.28">0</text>
<line x1="258.60" y1="322.68" x2="260.40" y2="322.68" stroke="#8c8c8c" stroke-width="0.6"/>
<line x1="450.40" y1="322.68" x2="448.60" y2="322.68" stroke="#8c8c8c" stroke-width="0.6"/>
<text x="256.20" y="325.38" text-anchor="end" font-family='"Liberation Sans", Arial, sans-serif' font-size="5.9" fill="#3c3c3c" stroke="#3c3c3c" stroke-width="0.28">0.01</text>
<line x1="258.60" y1="300.07" x2="260.40" y2="300.07" stroke="#8c8c8c" stroke-width="0.6"/>
<line x1="450.40" y1="300.07" x2="448.60" y2="300.07" stroke="#8c8c8c" stroke-width="0.6"/>
<text x="256.20" y="302.77" text-anchor="end" font-family='"Liberation Sans", Arial, sans-serif' font-size="5.9" fill="#3c3c3c" stroke="#3c3c3c" stroke-width="0.28">0.02</text>
<line x1="258.60" y1="277.45" x2="260.40" y2="277.45" stroke="#8c8c8c" stroke-width="0.6"/>
<line x1="450.40" y1="277.45" x2="448.60" y2="277.45" stroke="#8c8c8c" stroke-width="0.6"/>
<text x="256.20" y="280.15" text-anchor="end" font-family='"Liberation Sans", Arial, sans-serif' font-size="5.9" fill="#3c3c3c" stroke="#3c3c3c" stroke-width="0.28">0.03</text>
<line x1="258.60" y1="254.84" x2="260.40" y2="254.84" stroke="#8c8c8c" stroke-width="0.6"/>
<line x1="450.40" y1="254.84" x2="448.60" y2="254.84" stroke="#8c8c8c" stroke-width="0.6"/>
<text x="256.20" y="257.54" text-anchor="end" font-family='"Liberation Sans", Arial, sans-serif' font-size="5.9" fill="#3c3c3c" stroke="#3c3c3c" stroke-width="0.28">0.04</text>
<line x1="258.60" y1="232.22" x2="260.40" y2="232.22" stroke="#8c8c8c" stroke-width="0.6"/>
<line x1="450.40" y1="232.22" x2="448.60" y2="232.22" stroke="#8c8c8c" stroke-width="0.6"/>
<text x="256.20" y="234.92" text-anchor="end" font-family='"Liberation Sans", Arial, sans-serif' font-size="5.9" fill="#3c3c3c" stroke="#3c3c3c" stroke-width="0.28">0.05</text>
<line x1="258.60" y1="209.61" x2="260.40" y2="209.61" stroke="#8c8c8c" stroke-width="0.6"/>
<line x1="450.40" y1="209.61" x2="448.60" y2="209.61" stroke="#8c8c8c" stroke-width="0.6"/>
<text x="256.20" y="212.31" text-anchor="end" font-family='"Liberation Sans", Arial, sans-serif' font-size="5.9" fill="#3c3c3c" stroke="#3c3c3c" stroke-width="0.28">0.06</text>
<rect x="263.20" y="202.60" width="184.60" height="23.00" fill="#fff" stroke="#8c8c8c" stroke-width="0.7"/>
<rect x="265.00" y="204.80" width="17.2" height="5.1" fill="#9B9BFA" stroke="#2a2a2a" stroke-width="0.8"/>
<text x="283.60" y="209.60" font-family='"Liberation Sans", Arial, sans-serif' font-size="5.4" fill="#262626" stroke="#262626" stroke-width="0.05">Experiments-RH-5.5-60°</text>
<line x1="265.50" y1="214.70" x2="269.60" y2="214.70" stroke="#0000FF" stroke-width="1.1"/><line x1="272.50" y1="214.70" x2="277.70" y2="214.70" stroke="#0000FF" stroke-width="1.1"/><line x1="281.60" y1="214.70" x2="282.40" y2="214.70" stroke="#0000FF" stroke-width="1.1"/><path d="M274.10 212.14L276.00 214.70L274.10 217.27L272.20 214.70Z" fill="none" stroke="#0000FF" stroke-width="1.1"/>
<text x="283.60" y="216.50" font-family='"Liberation Sans", Arial, sans-serif' font-size="5.4" fill="#262626" stroke="#262626" stroke-width="0.05">FEA-RH-5.5-60°</text>
<line x1="265.50" y1="221.50" x2="269.60" y2="221.50" stroke="#000000" stroke-width="1.1"/><line x1="272.50" y1="221.50" x2="277.70" y2="221.50" stroke="#000000" stroke-width="1.1"/><line x1="281.60" y1="221.50" x2="282.40" y2="221.50" stroke="#000000" stroke-width="1.1"/><rect x="272.49" y="219.89" width="3.23" height="3.23" fill="none" stroke="#000000" stroke-width="1.1"/>
<text x="283.60" y="223.30" font-family='"Liberation Sans", Arial, sans-serif' font-size="5.4" fill="#262626" stroke="#262626" stroke-width="0.05">ANN1-RH-5.5-60°</text>
<line x1="344.40" y1="207.80" x2="348.50" y2="207.80" stroke="#0000FF" stroke-width="1.1"/><line x1="351.40" y1="207.80" x2="356.60" y2="207.80" stroke="#0000FF" stroke-width="1.1"/><line x1="360.50" y1="207.80" x2="361.30" y2="207.80" stroke="#0000FF" stroke-width="1.1"/><path d="M353.00 205.71L354.90 209.32L351.10 209.32Z" fill="none" stroke="#0000FF" stroke-width="1.1"/>
<text x="362.50" y="209.60" font-family='"Liberation Sans", Arial, sans-serif' font-size="5.4" fill="#262626" stroke="#262626" stroke-width="0.05">GPR-RH-5.5-60°</text>
<line x1="344.40" y1="214.70" x2="348.50" y2="214.70" stroke="#FF00FF" stroke-width="1.1"/><line x1="351.40" y1="214.70" x2="356.60" y2="214.70" stroke="#FF00FF" stroke-width="1.1"/><line x1="360.50" y1="214.70" x2="361.30" y2="214.70" stroke="#FF00FF" stroke-width="1.1"/><path d="M353.00 216.79L354.90 213.18L351.10 213.18Z" fill="none" stroke="#FF00FF" stroke-width="1.1"/>
<text x="362.50" y="216.50" font-family='"Liberation Sans", Arial, sans-serif' font-size="5.4" fill="#262626" stroke="#262626" stroke-width="0.05">SVM-RH-5.5-60°</text>
<line x1="344.40" y1="221.50" x2="348.50" y2="221.50" stroke="#00FFFF" stroke-width="1.1"/><line x1="351.40" y1="221.50" x2="356.60" y2="221.50" stroke="#00FFFF" stroke-width="1.1"/><line x1="360.50" y1="221.50" x2="361.30" y2="221.50" stroke="#00FFFF" stroke-width="1.1"/><rect x="351.38" y="219.89" width="3.23" height="3.23" fill="none" stroke="#00FFFF" stroke-width="1.1"/>
<text x="362.50" y="223.30" font-family='"Liberation Sans", Arial, sans-serif' font-size="5.4" fill="#262626" stroke="#262626" stroke-width="0.05">ANN2-RH-5.5-60°</text>
<line x1="408.50" y1="207.80" x2="425.50" y2="207.80" stroke="#FF0000" stroke-width="2.2"/>
<text textLength="19.3" lengthAdjust="spacingAndGlyphs" x="426.50" y="209.60" font-family='"Liberation Sans", Arial, sans-serif' font-size="5.4" fill="#262626" stroke="#262626" stroke-width="0.05">Average</text>
<!-- panel e) -->
<text x="4.60" y="375.80" font-family='"Liberation Serif", "Times New Roman", serif' font-size="13" letter-spacing="-0.4" fill="#000" stroke="#000" stroke-width="0.25">e)</text>
<text x="126.80" y="376.00" text-anchor="middle" font-family='"Liberation Serif", "Times New Roman", serif' font-size="8.6" fill="#111" stroke="#111" stroke-width="0.22" textLength="98.3" lengthAdjust="spacingAndGlyphs">Square Honeycomb Lattices</text>
<text transform="translate(14.60,453.50) rotate(-90)" text-anchor="middle" font-family='"Liberation Serif", "Times New Roman", serif' font-size="7.6" fill="#1a1a1a" stroke="#1a1a1a" stroke-width="0.12" textLength="34" lengthAdjust="spacingAndGlyphs">Force (N)</text>
<text x="114.00" y="544.10" font-family='"Liberation Serif", "Times New Roman", serif' font-size="8.2" font-style="italic" fill="#1a1a1a" stroke="#1a1a1a" stroke-width="0.12">δ</text>
<text x="120.80" y="544.10" font-family='"Liberation Serif", "Times New Roman", serif' font-size="8.2" fill="#1a1a1a" stroke="#1a1a1a" stroke-width="0.12" textLength="19" lengthAdjust="spacingAndGlyphs">(mm)</text>
<path d="M33.40 527.50L168.32 415.93L182.61 415.93Z" fill="#FF9999" stroke="#111" stroke-width="0.85"/>
<path d="M168.13 413.67L170.03 416.23L168.13 418.80L166.23 416.23Z" fill="none" stroke="#FF0000" stroke-width="1.1"/>
<line x1="33.40" y1="527.50" x2="200.31" y2="415.93" stroke="#FF00FF" stroke-width="1.3" stroke-dasharray="5 3.2"/>
<line x1="33.40" y1="527.50" x2="168.13" y2="415.93" stroke="#00FFFF" stroke-width="1.3" stroke-dasharray="5 3.2"/>
<path d="M200.31 418.82L202.66 414.35L197.96 414.35Z" fill="#FF44FF" stroke="#FF00FF" stroke-width="1.1"/>
<path d="M168.13 412.81L170.33 416.99L165.93 416.99Z" fill="none" stroke="#0000FF" stroke-width="1.05"/>
<rect x="167.02" y="414.73" width="2.21" height="2.21" fill="#66FFFF" stroke="#00FFFF" stroke-width="0.9"/>
<path d="M33.40 524.80L35.40 527.50L33.40 530.20L31.40 527.50Z" fill="none" stroke="#FF0000" stroke-width="1.0"/>
<path d="M33.40 529.92L35.60 525.74L31.20 525.74Z" fill="none" stroke="#FF00FF" stroke-width="1.0"/>
<path d="M33.40 524.58L35.60 528.76L31.20 528.76Z" fill="none" stroke="#0000FF" stroke-width="1.0"/>
<rect x="32.04" y="526.14" width="2.72" height="2.72" fill="none" stroke="#00FFFF" stroke-width="1.0"/>
<line x1="33.40" y1="527.50" x2="175.83" y2="415.93" stroke="#FF0000" stroke-width="2.45"/>
<g>
<clipPath id="c76416"><rect x="76.20" y="416.70" width="23.90" height="47.50"/></clipPath>
<g clip-path="url(#c76416)" fill="none" stroke="#7a7a7a" stroke-width="1.0">
<line x1="79.00" y1="416.20" x2="79.00" y2="464.70"/>
<line x1="83.95" y1="416.20" x2="83.95" y2="464.70"/>
<line x1="88.90" y1="416.20" x2="88.90" y2="464.70"/>
<line x1="93.85" y1="416.20" x2="93.85" y2="464.70"/>
<line x1="98.80" y1="416.20" x2="98.80" y2="464.70"/>
<line x1="76.20" y1="416.90" x2="100.10" y2="416.90"/>
<line x1="76.20" y1="421.61" x2="100.10" y2="421.61"/>
<line x1="76.20" y1="426.32" x2="100.10" y2="426.32"/>
<line x1="76.20" y1="431.03" x2="100.10" y2="431.03"/>
<line x1="76.20" y1="435.74" x2="100.10" y2="435.74"/>
<line x1="76.20" y1="440.45" x2="100.10" y2="440.45"/>
<line x1="76.20" y1="445.16" x2="100.10" y2="445.16"/>
<line x1="76.20" y1="449.87" x2="100.10" y2="449.87"/>
<line x1="76.20" y1="454.58" x2="100.10" y2="454.58"/>
<line x1="76.20" y1="459.29" x2="100.10" y2="459.29"/>
<line x1="76.20" y1="464.00" x2="100.10" y2="464.00"/>
</g>
<line x1="76.20" y1="416.90" x2="100.10" y2="416.90" stroke="#666" stroke-width="1.4"/>
<line x1="76.20" y1="464.00" x2="100.10" y2="464.00" stroke="#666" stroke-width="1.4"/>
</g>
<rect x="33.40" y="379.50" width="186.80" height="148.00" fill="none" stroke="#8c8c8c" stroke-width="0.8"/>
<line x1="33.40" y1="527.50" x2="33.40" y2="525.70" stroke="#8c8c8c" stroke-width="0.6"/>
<line x1="33.40" y1="379.50" x2="33.40" y2="381.30" stroke="#8c8c8c" stroke-width="0.6"/>
<text x="33.90" y="535.80" text-anchor="middle" font-family='"Liberation Sans", Arial, sans-serif' font-size="5.9" fill="#3c3c3c" stroke="#3c3c3c" stroke-width="0.28">0</text>
<line x1="56.75" y1="527.50" x2="56.75" y2="525.70" stroke="#8c8c8c" stroke-width="0.6"/>
<line x1="56.75" y1="379.50" x2="56.75" y2="381.30" stroke="#8c8c8c" stroke-width="0.6"/>
<text x="57.25" y="535.80" text-anchor="middle" font-family='"Liberation Sans", Arial, sans-serif' font-size="5.9" fill="#3c3c3c" stroke="#3c3c3c" stroke-width="0.28">0.05</text>
<line x1="80.10" y1="527.50" x2="80.10" y2="525.70" stroke="#8c8c8c" stroke-width="0.6"/>
<line x1="80.10" y1="379.50" x2="80.10" y2="381.30" stroke="#8c8c8c" stroke-width="0.6"/>
<text x="80.60" y="535.80" text-anchor="middle" font-family='"Liberation Sans", Arial, sans-serif' font-size="5.9" fill="#3c3c3c" stroke="#3c3c3c" stroke-width="0.28">0.1</text>
<line x1="103.45" y1="527.50" x2="103.45" y2="525.70" stroke="#8c8c8c" stroke-width="0.6"/>
<line x1="103.45" y1="379.50" x2="103.45" y2="381.30" stroke="#8c8c8c" stroke-width="0.6"/>
<text x="103.95" y="535.80" text-anchor="middle" font-family='"Liberation Sans", Arial, sans-serif' font-size="5.9" fill="#3c3c3c" stroke="#3c3c3c" stroke-width="0.28">0.15</text>
<line x1="126.80" y1="527.50" x2="126.80" y2="525.70" stroke="#8c8c8c" stroke-width="0.6"/>
<line x1="126.80" y1="379.50" x2="126.80" y2="381.30" stroke="#8c8c8c" stroke-width="0.6"/>
<text x="127.30" y="535.80" text-anchor="middle" font-family='"Liberation Sans", Arial, sans-serif' font-size="5.9" fill="#3c3c3c" stroke="#3c3c3c" stroke-width="0.28">0.2</text>
<line x1="150.15" y1="527.50" x2="150.15" y2="525.70" stroke="#8c8c8c" stroke-width="0.6"/>
<line x1="150.15" y1="379.50" x2="150.15" y2="381.30" stroke="#8c8c8c" stroke-width="0.6"/>
<text x="150.65" y="535.80" text-anchor="middle" font-family='"Liberation Sans", Arial, sans-serif' font-size="5.9" fill="#3c3c3c" stroke="#3c3c3c" stroke-width="0.28">0.25</text>
<line x1="173.50" y1="527.50" x2="173.50" y2="525.70" stroke="#8c8c8c" stroke-width="0.6"/>
<line x1="173.50" y1="379.50" x2="173.50" y2="381.30" stroke="#8c8c8c" stroke-width="0.6"/>
<text x="174.00" y="535.80" text-anchor="middle" font-family='"Liberation Sans", Arial, sans-serif' font-size="5.9" fill="#3c3c3c" stroke="#3c3c3c" stroke-width="0.28">0.3</text>
<line x1="196.85" y1="527.50" x2="196.85" y2="525.70" stroke="#8c8c8c" stroke-width="0.6"/>
<line x1="196.85" y1="379.50" x2="196.85" y2="381.30" stroke="#8c8c8c" stroke-width="0.6"/>
<text x="197.35" y="535.80" text-anchor="middle" font-family='"Liberation Sans", Arial, sans-serif' font-size="5.9" fill="#3c3c3c" stroke="#3c3c3c" stroke-width="0.28">0.35</text>
<line x1="220.20" y1="527.50" x2="220.20" y2="525.70" stroke="#8c8c8c" stroke-width="0.6"/>
<line x1="220.20" y1="379.50" x2="220.20" y2="381.30" stroke="#8c8c8c" stroke-width="0.6"/>
<text x="220.70" y="535.80" text-anchor="middle" font-family='"Liberation Sans", Arial, sans-serif' font-size="5.9" fill="#3c3c3c" stroke="#3c3c3c" stroke-width="0.28">0.4</text>
<line x1="33.40" y1="527.50" x2="35.20" y2="527.50" stroke="#8c8c8c" stroke-width="0.6"/>
<line x1="220.20" y1="527.50" x2="218.40" y2="527.50" stroke="#8c8c8c" stroke-width="0.6"/>
<text x="31.00" y="530.20" text-anchor="end" font-family='"Liberation Sans", Arial, sans-serif' font-size="5.9" fill="#3c3c3c" stroke="#3c3c3c" stroke-width="0.28">0</text>
<line x1="33.40" y1="504.73" x2="35.20" y2="504.73" stroke="#8c8c8c" stroke-width="0.6"/>
<line x1="220.20" y1="504.73" x2="218.40" y2="504.73" stroke="#8c8c8c" stroke-width="0.6"/>
<text x="31.00" y="507.43" text-anchor="end" font-family='"Liberation Sans", Arial, sans-serif' font-size="5.9" fill="#3c3c3c" stroke="#3c3c3c" stroke-width="0.28">0.01</text>
<line x1="33.40" y1="481.96" x2="35.20" y2="481.96" stroke="#8c8c8c" stroke-width="0.6"/>
<line x1="220.20" y1="481.96" x2="218.40" y2="481.96" stroke="#8c8c8c" stroke-width="0.6"/>
<text x="31.00" y="484.66" text-anchor="end" font-family='"Liberation Sans", Arial, sans-serif' font-size="5.9" fill="#3c3c3c" stroke="#3c3c3c" stroke-width="0.28">0.02</text>
<line x1="33.40" y1="459.19" x2="35.20" y2="459.19" stroke="#8c8c8c" stroke-width="0.6"/>
<line x1="220.20" y1="459.19" x2="218.40" y2="459.19" stroke="#8c8c8c" stroke-width="0.6"/>
<text x="31.00" y="461.89" text-anchor="end" font-family='"Liberation Sans", Arial, sans-serif' font-size="5.9" fill="#3c3c3c" stroke="#3c3c3c" stroke-width="0.28">0.03</text>
<line x1="33.40" y1="436.42" x2="35.20" y2="436.42" stroke="#8c8c8c" stroke-width="0.6"/>
<line x1="220.20" y1="436.42" x2="218.40" y2="436.42" stroke="#8c8c8c" stroke-width="0.6"/>
<text x="31.00" y="439.12" text-anchor="end" font-family='"Liberation Sans", Arial, sans-serif' font-size="5.9" fill="#3c3c3c" stroke="#3c3c3c" stroke-width="0.28">0.04</text>
<line x1="33.40" y1="413.65" x2="35.20" y2="413.65" stroke="#8c8c8c" stroke-width="0.6"/>
<line x1="220.20" y1="413.65" x2="218.40" y2="413.65" stroke="#8c8c8c" stroke-width="0.6"/>
<text x="31.00" y="416.35" text-anchor="end" font-family='"Liberation Sans", Arial, sans-serif' font-size="5.9" fill="#3c3c3c" stroke="#3c3c3c" stroke-width="0.28">0.05</text>
<line x1="33.40" y1="390.88" x2="35.20" y2="390.88" stroke="#8c8c8c" stroke-width="0.6"/>
<line x1="220.20" y1="390.88" x2="218.40" y2="390.88" stroke="#8c8c8c" stroke-width="0.6"/>
<text x="31.00" y="393.58" text-anchor="end" font-family='"Liberation Sans", Arial, sans-serif' font-size="5.9" fill="#3c3c3c" stroke="#3c3c3c" stroke-width="0.28">0.06</text>
<rect x="37.50" y="384.20" width="178.20" height="23.00" fill="#fff" stroke="#8c8c8c" stroke-width="0.7"/>
<rect x="39.30" y="386.40" width="17.2" height="5.1" fill="#FF9999" stroke="#2a2a2a" stroke-width="0.8"/>
<text x="57.90" y="391.20" font-family='"Liberation Sans", Arial, sans-serif' font-size="5.4" fill="#262626" stroke="#262626" stroke-width="0.05">Experiments-SH-3.5-0°</text>
<line x1="39.80" y1="396.30" x2="43.90" y2="396.30" stroke="#FF0000" stroke-width="1.1"/><line x1="46.80" y1="396.30" x2="52.00" y2="396.30" stroke="#FF0000" stroke-width="1.1"/><line x1="55.90" y1="396.30" x2="56.70" y2="396.30" stroke="#FF0000" stroke-width="1.1"/><path d="M48.40 393.74L50.30 396.30L48.40 398.87L46.50 396.30Z" fill="none" stroke="#FF0000" stroke-width="1.1"/>
<text x="57.90" y="398.10" font-family='"Liberation Sans", Arial, sans-serif' font-size="5.4" fill="#262626" stroke="#262626" stroke-width="0.05">FEA-SH-3.5-0°</text>
<line x1="39.80" y1="403.10" x2="43.90" y2="403.10" stroke="#000000" stroke-width="1.1"/><line x1="46.80" y1="403.10" x2="52.00" y2="403.10" stroke="#000000" stroke-width="1.1"/><line x1="55.90" y1="403.10" x2="56.70" y2="403.10" stroke="#000000" stroke-width="1.1"/><rect x="46.78" y="401.48" width="3.23" height="3.23" fill="none" stroke="#000000" stroke-width="1.1"/>
<text x="57.90" y="404.90" font-family='"Liberation Sans", Arial, sans-serif' font-size="5.4" fill="#262626" stroke="#262626" stroke-width="0.05">ANN1-SH-3.5-0°</text>
<line x1="115.30" y1="389.40" x2="119.40" y2="389.40" stroke="#0000FF" stroke-width="1.1"/><line x1="122.30" y1="389.40" x2="127.50" y2="389.40" stroke="#0000FF" stroke-width="1.1"/><line x1="131.40" y1="389.40" x2="132.20" y2="389.40" stroke="#0000FF" stroke-width="1.1"/><path d="M123.90 387.31L125.80 390.92L122.00 390.92Z" fill="none" stroke="#0000FF" stroke-width="1.1"/>
<text x="133.40" y="391.20" font-family='"Liberation Sans", Arial, sans-serif' font-size="5.4" fill="#262626" stroke="#262626" stroke-width="0.05">GPR-SH-3.5-0°</text>
<line x1="115.30" y1="396.30" x2="119.40" y2="396.30" stroke="#FF00FF" stroke-width="1.1"/><line x1="122.30" y1="396.30" x2="127.50" y2="396.30" stroke="#FF00FF" stroke-width="1.1"/><line x1="131.40" y1="396.30" x2="132.20" y2="396.30" stroke="#FF00FF" stroke-width="1.1"/><path d="M123.90 398.39L125.80 394.78L122.00 394.78Z" fill="none" stroke="#FF00FF" stroke-width="1.1"/>
<text x="133.40" y="398.10" font-family='"Liberation Sans", Arial, sans-serif' font-size="5.4" fill="#262626" stroke="#262626" stroke-width="0.05">SVM-SH-3.5-0°</text>
<line x1="115.30" y1="403.10" x2="119.40" y2="403.10" stroke="#00FFFF" stroke-width="1.1"/><line x1="122.30" y1="403.10" x2="127.50" y2="403.10" stroke="#00FFFF" stroke-width="1.1"/><line x1="131.40" y1="403.10" x2="132.20" y2="403.10" stroke="#00FFFF" stroke-width="1.1"/><rect x="122.28" y="401.48" width="3.23" height="3.23" fill="none" stroke="#00FFFF" stroke-width="1.1"/>
<text x="133.40" y="404.90" font-family='"Liberation Sans", Arial, sans-serif' font-size="5.4" fill="#262626" stroke="#262626" stroke-width="0.05">ANN2-SH-3.5-0°</text>
<line x1="176.40" y1="389.40" x2="193.40" y2="389.40" stroke="#FF0000" stroke-width="2.2"/>
<text textLength="19.3" lengthAdjust="spacingAndGlyphs" x="194.40" y="391.20" font-family='"Liberation Sans", Arial, sans-serif' font-size="5.4" fill="#262626" stroke="#262626" stroke-width="0.05">Average</text>
<!-- panel f) -->
<text x="225.70" y="375.80" font-family='"Liberation Serif", "Times New Roman", serif' font-size="13" letter-spacing="-0.4" fill="#000" stroke="#000" stroke-width="0.25">f)</text>
<text x="354.45" y="376.00" text-anchor="middle" font-family='"Liberation Serif", "Times New Roman", serif' font-size="8.6" fill="#111" stroke="#111" stroke-width="0.22" textLength="98.3" lengthAdjust="spacingAndGlyphs">Square Honeycomb Lattices</text>
<text transform="translate(239.70,453.45) rotate(-90)" text-anchor="middle" font-family='"Liberation Serif", "Times New Roman", serif' font-size="7.6" fill="#1a1a1a" stroke="#1a1a1a" stroke-width="0.12" textLength="34" lengthAdjust="spacingAndGlyphs">Force (N)</text>
<text x="341.65" y="544.00" font-family='"Liberation Serif", "Times New Roman", serif' font-size="8.2" font-style="italic" fill="#1a1a1a" stroke="#1a1a1a" stroke-width="0.12">δ</text>
<text x="348.45" y="544.00" font-family='"Liberation Serif", "Times New Roman", serif' font-size="8.2" fill="#1a1a1a" stroke="#1a1a1a" stroke-width="0.12" textLength="19" lengthAdjust="spacingAndGlyphs">(mm)</text>
<path d="M258.50 527.40L401.25 415.91L432.81 415.91Z" fill="#96F796" stroke="#111" stroke-width="0.85"/>
<path d="M412.34 413.64L414.24 416.21L412.34 418.77L410.44 416.21Z" fill="none" stroke="#00FF00" stroke-width="1.1"/>
<line x1="258.50" y1="527.40" x2="373.21" y2="415.91" stroke="#FF00FF" stroke-width="1.3" stroke-dasharray="5 3.2"/>
<line x1="258.50" y1="527.40" x2="412.34" y2="415.91" stroke="#00FFFF" stroke-width="1.3" stroke-dasharray="5 3.2"/>
<path d="M373.21 418.79L375.56 414.33L370.86 414.33Z" fill="#FF44FF" stroke="#FF00FF" stroke-width="1.1"/>
<path d="M412.34 412.79L414.54 416.97L410.14 416.97Z" fill="none" stroke="#0000FF" stroke-width="1.05"/>
<rect x="411.23" y="414.70" width="2.21" height="2.21" fill="#66FFFF" stroke="#00FFFF" stroke-width="0.9"/>
<path d="M258.50 524.70L260.50 527.40L258.50 530.10L256.50 527.40Z" fill="none" stroke="#00FF00" stroke-width="1.0"/>
<path d="M258.50 529.82L260.70 525.64L256.30 525.64Z" fill="none" stroke="#FF00FF" stroke-width="1.0"/>
<path d="M258.50 524.48L260.70 528.66L256.30 528.66Z" fill="none" stroke="#0000FF" stroke-width="1.0"/>
<rect x="257.14" y="526.04" width="2.72" height="2.72" fill="none" stroke="#00FFFF" stroke-width="1.0"/>
<line x1="258.50" y1="527.40" x2="416.92" y2="415.91" stroke="#FF0000" stroke-width="2.45"/>
<g>
<clipPath id="c286418"><rect x="286.50" y="419.10" width="24.50" height="47.50"/></clipPath>
<g clip-path="url(#c286418)" fill="none" stroke="#4a4a4a" stroke-width="0.95">
<line x1="278.53" y1="374.56" x2="370.45" y2="451.69"/>
<line x1="275.41" y1="378.28" x2="367.34" y2="455.41"/>
<line x1="272.29" y1="381.99" x2="364.22" y2="459.13"/>
<line x1="269.17" y1="385.71" x2="361.10" y2="462.84"/>
<line x1="266.06" y1="389.42" x2="357.98" y2="466.56"/>
<line x1="262.94" y1="393.14" x2="354.87" y2="470.27"/>
<line x1="259.82" y1="396.85" x2="351.75" y2="473.99"/>
<line x1="256.70" y1="400.57" x2="348.63" y2="477.70"/>
<line x1="253.59" y1="404.28" x2="345.51" y2="481.42"/>
<line x1="250.47" y1="408.00" x2="342.40" y2="485.13"/>
<line x1="247.35" y1="411.71" x2="339.28" y2="488.85"/>
<line x1="244.23" y1="415.43" x2="336.16" y2="492.56"/>
<line x1="241.12" y1="419.14" x2="333.04" y2="496.28"/>
<line x1="238.00" y1="422.86" x2="329.93" y2="499.99"/>
<line x1="234.88" y1="426.57" x2="326.81" y2="503.71"/>
<line x1="231.76" y1="430.29" x2="323.69" y2="507.42"/>
<line x1="228.65" y1="434.01" x2="320.57" y2="511.14"/>
<line x1="367.84" y1="421.83" x2="290.71" y2="513.75"/>
<line x1="364.12" y1="418.71" x2="286.99" y2="510.64"/>
<line x1="360.41" y1="415.59" x2="283.27" y2="507.52"/>
<line x1="356.69" y1="412.47" x2="279.56" y2="504.40"/>
<line x1="352.98" y1="409.36" x2="275.84" y2="501.28"/>
<line x1="349.26" y1="406.24" x2="272.13" y2="498.17"/>
<line x1="345.55" y1="403.12" x2="268.41" y2="495.05"/>
<line x1="341.83" y1="400.00" x2="264.70" y2="491.93"/>
<line x1="338.12" y1="396.89" x2="260.98" y2="488.81"/>
<line x1="334.40" y1="393.77" x2="257.27" y2="485.70"/>
<line x1="330.69" y1="390.65" x2="253.55" y2="482.58"/>
<line x1="326.97" y1="387.53" x2="249.84" y2="479.46"/>
<line x1="323.26" y1="384.42" x2="246.12" y2="476.34"/>
<line x1="319.54" y1="381.30" x2="242.41" y2="473.23"/>
<line x1="315.83" y1="378.18" x2="238.69" y2="470.11"/>
<line x1="312.11" y1="375.06" x2="234.98" y2="466.99"/>
<line x1="308.39" y1="371.95" x2="231.26" y2="463.87"/>
</g>
<line x1="286.50" y1="419.30" x2="311.00" y2="419.30" stroke="#666" stroke-width="1.4"/>
<line x1="286.50" y1="466.40" x2="311.00" y2="466.40" stroke="#666" stroke-width="1.4"/>
</g>
<rect x="258.50" y="379.50" width="191.90" height="147.90" fill="none" stroke="#8c8c8c" stroke-width="0.8"/>
<line x1="258.50" y1="527.40" x2="258.50" y2="525.60" stroke="#8c8c8c" stroke-width="0.6"/>
<line x1="258.50" y1="379.50" x2="258.50" y2="381.30" stroke="#8c8c8c" stroke-width="0.6"/>
<text x="259.00" y="535.70" text-anchor="middle" font-family='"Liberation Sans", Arial, sans-serif' font-size="5.9" fill="#3c3c3c" stroke="#3c3c3c" stroke-width="0.28">0</text>
<line x1="279.82" y1="527.40" x2="279.82" y2="525.60" stroke="#8c8c8c" stroke-width="0.6"/>
<line x1="279.82" y1="379.50" x2="279.82" y2="381.30" stroke="#8c8c8c" stroke-width="0.6"/>
<text x="280.32" y="535.70" text-anchor="middle" font-family='"Liberation Sans", Arial, sans-serif' font-size="5.9" fill="#3c3c3c" stroke="#3c3c3c" stroke-width="0.28">0.1</text>
<line x1="301.14" y1="527.40" x2="301.14" y2="525.60" stroke="#8c8c8c" stroke-width="0.6"/>
<line x1="301.14" y1="379.50" x2="301.14" y2="381.30" stroke="#8c8c8c" stroke-width="0.6"/>
<text x="301.64" y="535.70" text-anchor="middle" font-family='"Liberation Sans", Arial, sans-serif' font-size="5.9" fill="#3c3c3c" stroke="#3c3c3c" stroke-width="0.28">0.2</text>
<line x1="322.47" y1="527.40" x2="322.47" y2="525.60" stroke="#8c8c8c" stroke-width="0.6"/>
<line x1="322.47" y1="379.50" x2="322.47" y2="381.30" stroke="#8c8c8c" stroke-width="0.6"/>
<text x="322.97" y="535.70" text-anchor="middle" font-family='"Liberation Sans", Arial, sans-serif' font-size="5.9" fill="#3c3c3c" stroke="#3c3c3c" stroke-width="0.28">0.3</text>
<line x1="343.79" y1="527.40" x2="343.79" y2="525.60" stroke="#8c8c8c" stroke-width="0.6"/>
<line x1="343.79" y1="379.50" x2="343.79" y2="381.30" stroke="#8c8c8c" stroke-width="0.6"/>
<text x="344.29" y="535.70" text-anchor="middle" font-family='"Liberation Sans", Arial, sans-serif' font-size="5.9" fill="#3c3c3c" stroke="#3c3c3c" stroke-width="0.28">0.4</text>
<line x1="365.11" y1="527.40" x2="365.11" y2="525.60" stroke="#8c8c8c" stroke-width="0.6"/>
<line x1="365.11" y1="379.50" x2="365.11" y2="381.30" stroke="#8c8c8c" stroke-width="0.6"/>
<text x="365.61" y="535.70" text-anchor="middle" font-family='"Liberation Sans", Arial, sans-serif' font-size="5.9" fill="#3c3c3c" stroke="#3c3c3c" stroke-width="0.28">0.5</text>
<line x1="386.43" y1="527.40" x2="386.43" y2="525.60" stroke="#8c8c8c" stroke-width="0.6"/>
<line x1="386.43" y1="379.50" x2="386.43" y2="381.30" stroke="#8c8c8c" stroke-width="0.6"/>
<text x="386.93" y="535.70" text-anchor="middle" font-family='"Liberation Sans", Arial, sans-serif' font-size="5.9" fill="#3c3c3c" stroke="#3c3c3c" stroke-width="0.28">0.6</text>
<line x1="407.76" y1="527.40" x2="407.76" y2="525.60" stroke="#8c8c8c" stroke-width="0.6"/>
<line x1="407.76" y1="379.50" x2="407.76" y2="381.30" stroke="#8c8c8c" stroke-width="0.6"/>
<text x="408.26" y="535.70" text-anchor="middle" font-family='"Liberation Sans", Arial, sans-serif' font-size="5.9" fill="#3c3c3c" stroke="#3c3c3c" stroke-width="0.28">0.7</text>
<line x1="429.08" y1="527.40" x2="429.08" y2="525.60" stroke="#8c8c8c" stroke-width="0.6"/>
<line x1="429.08" y1="379.50" x2="429.08" y2="381.30" stroke="#8c8c8c" stroke-width="0.6"/>
<text x="429.58" y="535.70" text-anchor="middle" font-family='"Liberation Sans", Arial, sans-serif' font-size="5.9" fill="#3c3c3c" stroke="#3c3c3c" stroke-width="0.28">0.8</text>
<line x1="450.40" y1="527.40" x2="450.40" y2="525.60" stroke="#8c8c8c" stroke-width="0.6"/>
<line x1="450.40" y1="379.50" x2="450.40" y2="381.30" stroke="#8c8c8c" stroke-width="0.6"/>
<text x="450.90" y="535.70" text-anchor="middle" font-family='"Liberation Sans", Arial, sans-serif' font-size="5.9" fill="#3c3c3c" stroke="#3c3c3c" stroke-width="0.28">0.9</text>
<line x1="258.50" y1="527.40" x2="260.30" y2="527.40" stroke="#8c8c8c" stroke-width="0.6"/>
<line x1="450.40" y1="527.40" x2="448.60" y2="527.40" stroke="#8c8c8c" stroke-width="0.6"/>
<text x="256.10" y="530.10" text-anchor="end" font-family='"Liberation Sans", Arial, sans-serif' font-size="5.9" fill="#3c3c3c" stroke="#3c3c3c" stroke-width="0.28">0</text>
<line x1="258.50" y1="504.65" x2="260.30" y2="504.65" stroke="#8c8c8c" stroke-width="0.6"/>
<line x1="450.40" y1="504.65" x2="448.60" y2="504.65" stroke="#8c8c8c" stroke-width="0.6"/>
<text x="256.10" y="507.35" text-anchor="end" font-family='"Liberation Sans", Arial, sans-serif' font-size="5.9" fill="#3c3c3c" stroke="#3c3c3c" stroke-width="0.28">0.01</text>
<line x1="258.50" y1="481.89" x2="260.30" y2="481.89" stroke="#8c8c8c" stroke-width="0.6"/>
<line x1="450.40" y1="481.89" x2="448.60" y2="481.89" stroke="#8c8c8c" stroke-width="0.6"/>
<text x="256.10" y="484.59" text-anchor="end" font-family='"Liberation Sans", Arial, sans-serif' font-size="5.9" fill="#3c3c3c" stroke="#3c3c3c" stroke-width="0.28">0.02</text>
<line x1="258.50" y1="459.14" x2="260.30" y2="459.14" stroke="#8c8c8c" stroke-width="0.6"/>
<line x1="450.40" y1="459.14" x2="448.60" y2="459.14" stroke="#8c8c8c" stroke-width="0.6"/>
<text x="256.10" y="461.84" text-anchor="end" font-family='"Liberation Sans", Arial, sans-serif' font-size="5.9" fill="#3c3c3c" stroke="#3c3c3c" stroke-width="0.28">0.03</text>
<line x1="258.50" y1="436.38" x2="260.30" y2="436.38" stroke="#8c8c8c" stroke-width="0.6"/>
<line x1="450.40" y1="436.38" x2="448.60" y2="436.38" stroke="#8c8c8c" stroke-width="0.6"/>
<text x="256.10" y="439.08" text-anchor="end" font-family='"Liberation Sans", Arial, sans-serif' font-size="5.9" fill="#3c3c3c" stroke="#3c3c3c" stroke-width="0.28">0.04</text>
<line x1="258.50" y1="413.63" x2="260.30" y2="413.63" stroke="#8c8c8c" stroke-width="0.6"/>
<line x1="450.40" y1="413.63" x2="448.60" y2="413.63" stroke="#8c8c8c" stroke-width="0.6"/>
<text x="256.10" y="416.33" text-anchor="end" font-family='"Liberation Sans", Arial, sans-serif' font-size="5.9" fill="#3c3c3c" stroke="#3c3c3c" stroke-width="0.28">0.05</text>
<line x1="258.50" y1="390.88" x2="260.30" y2="390.88" stroke="#8c8c8c" stroke-width="0.6"/>
<line x1="450.40" y1="390.88" x2="448.60" y2="390.88" stroke="#8c8c8c" stroke-width="0.6"/>
<text x="256.10" y="393.58" text-anchor="end" font-family='"Liberation Sans", Arial, sans-serif' font-size="5.9" fill="#3c3c3c" stroke="#3c3c3c" stroke-width="0.28">0.06</text>
<rect x="263.30" y="384.30" width="183.10" height="23.00" fill="#fff" stroke="#8c8c8c" stroke-width="0.7"/>
<rect x="265.10" y="386.50" width="17.2" height="5.1" fill="#96F796" stroke="#2a2a2a" stroke-width="0.8"/>
<text x="283.70" y="391.30" font-family='"Liberation Sans", Arial, sans-serif' font-size="5.4" fill="#262626" stroke="#262626" stroke-width="0.05">Experiments-SH-3.5-40°</text>
<line x1="265.60" y1="396.40" x2="269.70" y2="396.40" stroke="#00FF00" stroke-width="1.1"/><line x1="272.60" y1="396.40" x2="277.80" y2="396.40" stroke="#00FF00" stroke-width="1.1"/><line x1="281.70" y1="396.40" x2="282.50" y2="396.40" stroke="#00FF00" stroke-width="1.1"/><path d="M274.20 393.84L276.10 396.40L274.20 398.97L272.30 396.40Z" fill="none" stroke="#00FF00" stroke-width="1.1"/>
<text x="283.70" y="398.20" font-family='"Liberation Sans", Arial, sans-serif' font-size="5.4" fill="#262626" stroke="#262626" stroke-width="0.05">FEA-SH-3.5-40°</text>
<line x1="265.60" y1="403.20" x2="269.70" y2="403.20" stroke="#000000" stroke-width="1.1"/><line x1="272.60" y1="403.20" x2="277.80" y2="403.20" stroke="#000000" stroke-width="1.1"/><line x1="281.70" y1="403.20" x2="282.50" y2="403.20" stroke="#000000" stroke-width="1.1"/><rect x="272.59" y="401.58" width="3.23" height="3.23" fill="none" stroke="#000000" stroke-width="1.1"/>
<text x="283.70" y="405.00" font-family='"Liberation Sans", Arial, sans-serif' font-size="5.4" fill="#262626" stroke="#262626" stroke-width="0.05">ANN1-SH-3.5-40°</text>
<line x1="344.50" y1="389.50" x2="348.60" y2="389.50" stroke="#0000FF" stroke-width="1.1"/><line x1="351.50" y1="389.50" x2="356.70" y2="389.50" stroke="#0000FF" stroke-width="1.1"/><line x1="360.60" y1="389.50" x2="361.40" y2="389.50" stroke="#0000FF" stroke-width="1.1"/><path d="M353.10 387.41L355.00 391.02L351.20 391.02Z" fill="none" stroke="#0000FF" stroke-width="1.1"/>
<text x="362.60" y="391.30" font-family='"Liberation Sans", Arial, sans-serif' font-size="5.4" fill="#262626" stroke="#262626" stroke-width="0.05">GPR-SH-3.5-40°</text>
<line x1="344.50" y1="396.40" x2="348.60" y2="396.40" stroke="#FF00FF" stroke-width="1.1"/><line x1="351.50" y1="396.40" x2="356.70" y2="396.40" stroke="#FF00FF" stroke-width="1.1"/><line x1="360.60" y1="396.40" x2="361.40" y2="396.40" stroke="#FF00FF" stroke-width="1.1"/><path d="M353.10 398.49L355.00 394.88L351.20 394.88Z" fill="none" stroke="#FF00FF" stroke-width="1.1"/>
<text x="362.60" y="398.20" font-family='"Liberation Sans", Arial, sans-serif' font-size="5.4" fill="#262626" stroke="#262626" stroke-width="0.05">SVM-SH-3.5-40°</text>
<line x1="344.50" y1="403.20" x2="348.60" y2="403.20" stroke="#00FFFF" stroke-width="1.1"/><line x1="351.50" y1="403.20" x2="356.70" y2="403.20" stroke="#00FFFF" stroke-width="1.1"/><line x1="360.60" y1="403.20" x2="361.40" y2="403.20" stroke="#00FFFF" stroke-width="1.1"/><rect x="351.49" y="401.58" width="3.23" height="3.23" fill="none" stroke="#00FFFF" stroke-width="1.1"/>
<text x="362.60" y="405.00" font-family='"Liberation Sans", Arial, sans-serif' font-size="5.4" fill="#262626" stroke="#262626" stroke-width="0.05">ANN2-SH-3.5-40°</text>
<line x1="407.10" y1="389.50" x2="424.10" y2="389.50" stroke="#FF0000" stroke-width="2.2"/>
<text textLength="19.3" lengthAdjust="spacingAndGlyphs" x="425.10" y="391.30" font-family='"Liberation Sans", Arial, sans-serif' font-size="5.4" fill="#262626" stroke="#262626" stroke-width="0.05">Average</text>
</svg></body></html>
